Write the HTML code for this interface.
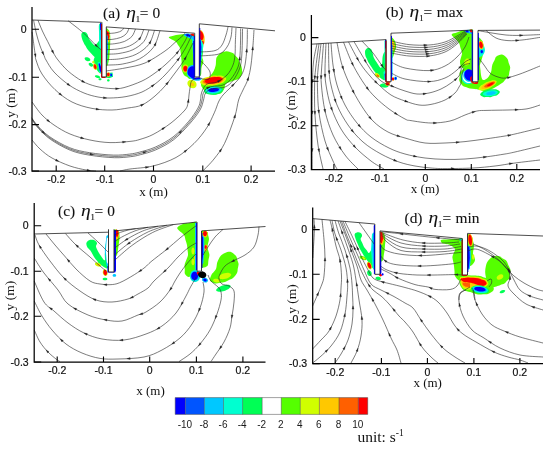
<!DOCTYPE html>
<html lang="en"><head><meta charset="utf-8"><title>Vorticity and streamlines</title>
<style>html,body{margin:0;padding:0;background:#fff}svg{display:block}</style></head><body>
<svg width="550" height="450" viewBox="0 0 550 450">
<rect width="550" height="450" fill="#fff"/>
<g id="A">
<path d="M81.7 33.3C82.2 32.4 83.7 31.9 84.7 32C85.6 32.1 86.6 32.9 87.3 34C88.1 35.1 88.1 37.1 89 38.7C89.9 40.3 91.4 42.2 92.7 43.7C93.9 45.2 95.4 46.5 96.7 47.7C97.9 48.9 99.7 49.6 100.3 50.8C101 52.1 100.4 53.8 100.5 55.2C100.6 56.7 101.4 59.2 100.7 59.7C99.9 60.1 97.5 58.9 96 58C94.5 57.1 93.1 55.5 91.7 54C90.2 52.5 88.4 50.4 87.3 49C86.3 47.6 86.1 46.9 85.5 45.8C84.9 44.8 84.3 44.1 83.7 42.7C83 41.3 82 39.1 81.7 37.5C81.3 35.9 81.2 34.2 81.7 33.3Z" fill="#00ff55" />
<path d="M93.7 47.7L97.3 43L100.5 38.7L100.5 47.5L97.7 50.7Z" fill="#00ff55"/>
<path d="M99 25C99.4 23.6 100.9 22.3 101.3 23C101.7 23.7 101.3 27.2 101.3 29.2C101.3 31.3 101.3 33.4 101.3 35.5C101.3 37.6 101.3 39.7 101.3 41.8C101.3 43.8 101.3 45.9 101.3 48C101.3 50.1 101.3 52.2 101.3 54.2C101.3 56.3 101.3 58.4 101.3 60.5C101.3 62.6 101.3 64.7 101.3 66.8C101.3 68.8 101.7 72 101.3 73C100.9 74 99.9 73.3 99 72.5C98.1 71.7 96.4 69.4 95.7 68C94.9 66.6 95 65.4 94.7 64.2C94.3 62.9 93.6 61.6 93.7 60.3C93.7 59.1 94.4 58 94.8 56.8C95.2 55.7 95.6 54.6 96 53.3C96.4 52.1 97 50.6 97.5 49.2C98 47.8 98.8 46.8 99 45C99.2 43.2 99 40.6 99 38.3C99 36.1 99 33.9 99 31.7C99 29.4 98.6 26.4 99 25Z" fill="#00ff55" />
<path d="M90.3 60.2C90.2 60.6 89.6 61 89 61.1C88.5 61.2 87.5 61.1 86.9 60.9C86.2 60.6 85.4 60.1 85.1 59.7C84.7 59.2 84.5 58.5 84.7 58.1C84.8 57.7 85.4 57.3 86 57.2C86.5 57.1 87.5 57.2 88.1 57.4C88.8 57.7 89.6 58.2 89.9 58.7C90.3 59.1 90.5 59.8 90.3 60.2Z" fill="#00ff55" />
<path d="M92.9 66.1C92.7 66.4 92.1 66.7 91.6 66.7C91.1 66.6 90.4 66.4 89.9 66C89.4 65.7 88.9 65.1 88.7 64.6C88.5 64.2 88.6 63.6 88.8 63.2C89 62.9 89.6 62.7 90.1 62.7C90.6 62.7 91.3 63 91.8 63.3C92.3 63.6 92.8 64.3 93 64.7C93.1 65.2 93.1 65.8 92.9 66.1Z" fill="#00ff55" />
<path d="M100.1 77.4C100 77.7 99.6 78 99.1 78.1C98.6 78.2 97.8 78.1 97.2 78C96.5 77.8 95.8 77.4 95.4 77.1C95.1 76.8 94.8 76.3 94.9 76C95 75.7 95.4 75.4 95.9 75.3C96.4 75.2 97.2 75.2 97.8 75.4C98.5 75.5 99.2 75.9 99.6 76.2C99.9 76.6 100.2 77.1 100.1 77.4Z" fill="#00ff55" />
<path d="M101.5 79.3C101.5 79.6 101.3 79.9 101.1 80C100.8 80.2 100.4 80.3 100 80.3C99.6 80.3 99.2 80.2 98.9 80C98.7 79.9 98.5 79.6 98.5 79.3C98.5 79.1 98.7 78.8 98.9 78.6C99.2 78.5 99.6 78.3 100 78.3C100.4 78.3 100.8 78.5 101.1 78.6C101.3 78.8 101.5 79.1 101.5 79.3Z" fill="#00ff55" />
<path d="M109.7 80.3C109.7 80.6 109.5 81 109.3 81.2C109.1 81.4 108.6 81.5 108.3 81.5C108 81.5 107.6 81.4 107.4 81.2C107.2 81 107 80.6 107 80.3C107 80.1 107.2 79.7 107.4 79.5C107.6 79.3 108 79.2 108.3 79.2C108.6 79.2 109.1 79.3 109.3 79.5C109.5 79.7 109.7 80.1 109.7 80.3Z" fill="#00ff55" />
<path d="M106 73.3L112.5 72.5L113 76.7L109.2 78.3L106 77.5Z" fill="#00ff55"/>
<path d="M99.3 25L101.3 23L101.3 50.8L99.7 48.3L99 40Z" fill="#00ffd0"/>
<path d="M99.8 24.2L101.3 23L101.3 41.7L100 38.3Z" fill="#00c8ff"/>
<path d="M100 23.3L101.3 22.5L101.3 30.8L100.2 29.2Z" fill="#0000ff"/>
<path d="M97.5 62.5L99.7 61.7L101.3 65L101.3 73.7L99.3 71.7Z" fill="#00ffd0"/>
<path d="M98.5 63.7L99.7 63.3L101.2 67.5L101.2 73L99.7 70.8Z" fill="#0000ff"/>
<path d="M97.1 66.2C97.3 66.9 97.3 68 97.1 68.6C97 69.2 96.5 69.8 96 69.9C95.6 70 94.9 69.8 94.4 69.3C93.9 68.9 93.4 67.9 93.2 67.2C93 66.4 93 65.4 93.2 64.8C93.4 64.1 93.8 63.6 94.3 63.5C94.8 63.3 95.5 63.6 95.9 64C96.4 64.5 96.9 65.4 97.1 66.2Z" fill="#d0ff00" />
<path d="M96.6 66.3C96.8 66.9 96.8 67.7 96.7 68.2C96.6 68.7 96.2 69.1 95.9 69.2C95.5 69.3 95 69.1 94.6 68.8C94.3 68.4 93.9 67.7 93.7 67C93.6 66.4 93.5 65.6 93.7 65.1C93.8 64.6 94.1 64.2 94.5 64.1C94.8 64 95.3 64.2 95.7 64.6C96.1 64.9 96.5 65.7 96.6 66.3Z" fill="#ff6000" />
<path d="M96.1 66.6C96.3 67 96.3 67.7 96.2 68C96.1 68.4 95.9 68.7 95.7 68.8C95.5 68.8 95.1 68.7 94.8 68.4C94.6 68.1 94.3 67.5 94.2 67.1C94.1 66.6 94 66 94.1 65.7C94.2 65.3 94.4 65 94.7 64.9C94.9 64.8 95.2 65 95.5 65.3C95.7 65.6 96 66.1 96.1 66.6Z" fill="#ff0000" />
<path d="M94.5 62.2C94.5 62.5 94.4 62.9 94.2 63.1C94 63.3 93.6 63.5 93.3 63.5C93.1 63.5 92.7 63.3 92.5 63.1C92.3 62.9 92.2 62.5 92.2 62.2C92.2 61.9 92.3 61.4 92.5 61.2C92.7 61 93.1 60.8 93.3 60.8C93.6 60.8 94 61 94.2 61.2C94.4 61.4 94.5 61.9 94.5 62.2Z" fill="#d0ff00" />
<path d="M106.2 28.3C106.7 27.7 108.5 29.4 109.2 30.8C109.9 32.2 110.2 34.7 110.3 36.7C110.5 38.6 110.2 40.6 110.2 42.5C110.1 44.4 110.1 46.5 110 48.3C109.9 50.1 109.7 51.7 109.6 53.3C109.4 55 109.5 56.4 109.2 58.3C108.9 60.3 108.2 63.8 107.7 65C107.2 66.2 106.4 66.7 106.2 65.8C105.9 64.9 106.2 61.7 106.2 59.6C106.2 57.5 106.2 55.4 106.2 53.3C106.2 51.2 106.2 49.2 106.2 47.1C106.2 45 106.2 42.9 106.2 40.8C106.2 38.7 106.2 36.7 106.2 34.6C106.2 32.5 105.7 29 106.2 28.3Z" fill="#55ff00" />
<path d="M106.2 29.7L109 31.7L109.8 36.7L109.2 41.7L106.2 42.5Z" fill="#ffc800"/>
<path d="M106.2 30.3L108.5 32.2L109.3 36.3L108.5 40L106.2 40Z" fill="#ff0000"/>
<path d="M106.2 34.7L107.7 35.8L108 48.3L107.3 63.3L106.2 65Z" fill="#00c8ff"/>
<path d="M106.2 35.8L107.2 36.7L107.3 48.3L106.8 61.7L106.2 62.5Z" fill="#0000ff"/>
<path d="M110.2 74.5C110.2 75 109.9 75.8 109.6 76.2C109.3 76.5 108.8 76.8 108.3 76.8C107.9 76.8 107.3 76.5 107 76.2C106.7 75.8 106.5 75 106.5 74.5C106.5 74 106.7 73.2 107 72.8C107.3 72.5 107.9 72.2 108.3 72.2C108.8 72.2 109.3 72.5 109.6 72.8C109.9 73.2 110.2 74 110.2 74.5Z" fill="#ffc800" />
<path d="M109.7 74.5C109.7 74.9 109.5 75.5 109.3 75.8C109.1 76.1 108.6 76.3 108.3 76.3C108 76.3 107.6 76.1 107.4 75.8C107.2 75.5 107 74.9 107 74.5C107 74.1 107.2 73.5 107.4 73.2C107.6 72.9 108 72.7 108.3 72.7C108.6 72.7 109.1 72.9 109.3 73.2C109.5 73.5 109.7 74.1 109.7 74.5Z" fill="#ff0000" />
<path d="M112.5 75C112.5 75.4 112.3 76 112.1 76.3C111.9 76.6 111.5 76.8 111.2 76.8C110.9 76.8 110.4 76.6 110.2 76.3C110 76 109.8 75.4 109.8 75C109.8 74.6 110 74 110.2 73.7C110.4 73.4 110.9 73.2 111.2 73.2C111.5 73.2 111.9 73.4 112.1 73.7C112.3 74 112.5 74.6 112.5 75Z" fill="#00c8ff" />
<path d="M112 75C112 75.3 111.9 75.7 111.8 75.9C111.6 76.2 111.4 76.3 111.2 76.3C111 76.3 110.7 76.2 110.6 75.9C110.4 75.7 110.3 75.3 110.3 75C110.3 74.7 110.4 74.3 110.6 74.1C110.7 73.8 111 73.7 111.2 73.7C111.4 73.7 111.6 73.8 111.8 74.1C111.9 74.3 112 74.7 112 75Z" fill="#0000ff" />
<path d="M169 37C169.4 36.6 171.3 36.3 172.5 36C173.7 35.7 174.8 35.2 176 35C177.2 34.8 178.7 34.7 180 34.5C181.3 34.3 182.5 34 184 34C185.5 34 187.5 34.2 189.2 34.3C190.9 34.4 193.5 33.4 194.4 34.6C195.3 35.8 194.4 39.1 194.4 41.3C194.4 43.6 194.4 45.8 194.4 48.1C194.4 50.3 194.4 52.6 194.4 54.8C194.4 57 194.4 59.3 194.4 61.5C194.4 63.8 194.4 66 194.4 68.3C194.4 70.5 195.1 73.2 194.4 75C193.7 76.8 191.2 78.7 190 79C188.8 79.3 188 77.7 187 77C186 76.3 184.9 76.3 184 75C183.1 73.7 182 71.2 181.6 69C181.2 66.8 181.6 63.8 181.6 62C181.6 60.2 181.4 59.7 181.3 58.5C181.2 57.3 181.1 56.2 181 55C180.9 53.8 180.7 52.7 180.5 51.5C180.3 50.3 180.4 49.1 180 48C179.6 46.9 178.7 46 178 45C177.3 44 177.3 43.1 176 42C174.7 40.9 171.2 39.4 170 38.6C168.8 37.8 168.6 37.4 169 37Z" fill="#55ff00" />
<path d="M217 56.7C217.8 55.5 219.4 53.8 221 52.9C222.6 52 224.6 51.2 226.6 51.2C228.6 51.2 231.3 52.3 232.7 53.1C234.2 53.8 234.5 54.8 235.4 55.7C236.3 56.6 237.3 57.3 238.1 58.4C238.8 59.5 239.2 61.2 239.8 62.5C240.4 63.9 241.2 64.8 241.5 66.7C241.9 68.5 242.5 71.6 242.1 73.6C241.6 75.6 240.1 77.6 239 78.7C237.9 79.7 236.6 79.6 235.5 80C234.3 80.4 233.6 80.7 231.9 81.3C230.3 82 226.9 82.8 225.7 84C224.4 85.2 225.1 87.1 224.3 88.7C223.6 90.2 222.2 92.4 221 93.3C219.8 94.2 218.6 93.8 217.3 94C216.1 94.2 214.9 94.7 213.7 94.7C212.4 94.6 211.2 94 210 93.7C208.8 93.3 207.5 93.5 206.3 92.7C205.2 91.8 203.9 90 203 88.7C202.1 87.3 201 85.8 201 84.7C201 83.5 202.1 82.6 203 81.6C203.9 80.6 205.1 79.9 206.3 78.9C207.6 78 209.1 77.1 210.3 75.7C211.6 74.4 212.8 72.7 213.7 70.9C214.6 69.2 215.3 67.2 215.7 65.3C216.1 63.5 215.8 61.4 216.1 60C216.3 58.6 216.2 57.8 217 56.7Z" fill="#55ff00" />
<path d="M223.2 89.6C223.2 90.6 222.2 92 220.6 92.9C219.1 93.8 216.2 94.6 214 94.8C211.7 95 208.8 94.7 207.1 94.1C205.5 93.5 204.1 92.3 204 91.2C203.9 90.2 205 88.8 206.6 87.9C208.1 87 211 86.2 213.2 86C215.5 85.8 218.4 86.1 220.1 86.7C221.7 87.3 223.1 88.5 223.2 89.6Z" fill="#00ff55" />
<path d="M221.6 89.5C221.6 90.3 220.7 91.4 219.4 92.1C218.2 92.8 215.8 93.4 213.9 93.6C212 93.8 209.5 93.5 208.2 93.1C206.8 92.6 205.7 91.7 205.6 90.9C205.6 90.1 206.5 89 207.8 88.3C209 87.6 211.4 87 213.3 86.8C215.2 86.6 217.7 86.9 219 87.3C220.4 87.8 221.5 88.7 221.6 89.5Z" fill="#00ffd0" />
<path d="M220.4 89.6C220.4 90.3 219.6 91.2 218.6 91.8C217.5 92.3 215.4 92.8 213.8 93C212.2 93.1 210.1 93 209 92.6C207.8 92.2 206.9 91.4 206.8 90.8C206.8 90.1 207.6 89.2 208.6 88.7C209.7 88.1 211.8 87.5 213.4 87.4C215 87.3 217.1 87.4 218.2 87.8C219.4 88.2 220.3 89 220.4 89.6Z" fill="#00c8ff" />
<path d="M219 89.5C219 90 218.4 90.7 217.5 91.1C216.7 91.5 215 91.9 213.8 92C212.5 92.1 210.8 92 209.9 91.7C209 91.5 208.3 90.9 208.2 90.5C208.2 90 208.8 89.3 209.7 88.9C210.5 88.5 212.2 88.1 213.4 88C214.7 87.9 216.4 88 217.3 88.3C218.2 88.5 218.9 89.1 219 89.5Z" fill="#0000ff" />
<path d="M226.3 78.8C226.4 79.9 224.2 81.9 222.9 82.8C221.6 83.7 219.9 83.7 218.4 84.2C216.9 84.6 215.4 85.3 213.9 85.5C212.4 85.8 210.8 85.5 209.2 85.5C207.6 85.4 206 85.9 204.4 85.4C202.9 84.9 200.3 83.6 200.1 82.4C200 81.3 202.2 79.3 203.5 78.4C204.8 77.5 206.5 77.5 208 77C209.5 76.6 211 75.9 212.5 75.7C214 75.4 215.7 75.7 217.2 75.7C218.8 75.8 220.4 75.3 221.9 75.8C223.5 76.3 226.1 77.6 226.3 78.8Z" fill="#d0ff00" />
<path d="M224.7 79C224.8 80 222.9 81.6 221.7 82.4C220.6 83.2 219.1 83.2 217.8 83.6C216.4 84 215.1 84.6 213.8 84.8C212.4 85 211 84.7 209.6 84.7C208.3 84.7 206.8 85.1 205.5 84.7C204.2 84.3 201.8 83.2 201.7 82.2C201.6 81.2 203.5 79.6 204.7 78.8C205.8 78 207.3 78 208.6 77.6C210 77.2 211.3 76.6 212.6 76.4C214 76.2 215.4 76.5 216.8 76.5C218.1 76.5 219.6 76.1 220.9 76.5C222.2 76.9 224.6 78 224.7 79Z" fill="#ffc800" />
<path d="M223.3 79C223.4 79.8 221.7 81.3 220.7 81.9C219.7 82.6 218.4 82.6 217.2 82.9C216 83.3 214.9 83.8 213.7 84C212.5 84.1 211.3 83.9 210.1 83.9C208.8 83.9 207.6 84.3 206.4 83.9C205.3 83.6 203.2 82.7 203.1 81.8C203 81 204.7 79.5 205.7 78.9C206.7 78.2 208 78.2 209.2 77.9C210.4 77.5 211.5 77 212.7 76.8C213.9 76.7 215.1 76.9 216.3 76.9C217.6 76.9 218.8 76.5 220 76.9C221.1 77.2 223.2 78.1 223.3 79Z" fill="#ff6000" />
<path d="M222.3 79C222.4 79.7 221.4 80.7 220.1 81.4C218.7 82 216.1 82.8 214 83.1C211.9 83.4 209.2 83.4 207.7 83.1C206.2 82.8 205 82.1 204.9 81.4C204.8 80.7 205.8 79.7 207.2 79C208.5 78.4 211.1 77.6 213.2 77.3C215.3 77 218 77 219.5 77.3C221 77.6 222.2 78.3 222.3 79Z" fill="#ff0000" />
<path d="M196.2 86.4C195.7 87.2 194.6 88 193.5 88.2C192.5 88.3 191 88 190 87.5C189 86.9 188 85.7 187.7 84.8C187.3 83.8 187.4 82.4 187.8 81.6C188.3 80.8 189.4 80 190.5 79.8C191.5 79.7 193 80 194 80.5C195 81.1 196 82.3 196.3 83.2C196.7 84.2 196.6 85.6 196.2 86.4Z" fill="#d0ff00" />
<path d="M194.1 85.4C193.9 85.7 193.5 86 193.1 86.1C192.6 86.2 192 86 191.6 85.8C191.2 85.6 190.8 85.1 190.6 84.7C190.5 84.3 190.5 83.7 190.7 83.4C190.9 83.1 191.3 82.8 191.7 82.7C192.2 82.6 192.8 82.8 193.2 83C193.6 83.2 194 83.7 194.2 84.1C194.3 84.5 194.3 85.1 194.1 85.4Z" fill="#ffc800" />
<path d="M188.6 68.6C188.6 69.5 188.2 70.8 187.7 71.4C187.1 72.1 186.2 72.6 185.4 72.6C184.6 72.6 183.7 72.1 183.1 71.4C182.6 70.8 182.2 69.5 182.2 68.6C182.2 67.7 182.6 66.4 183.1 65.8C183.7 65.1 184.6 64.6 185.4 64.6C186.2 64.6 187.1 65.1 187.7 65.8C188.2 66.4 188.6 67.7 188.6 68.6Z" fill="#d0ff00" />
<path d="M187.8 68.6C187.8 69.4 187.5 70.3 187.1 70.9C186.7 71.4 186 71.8 185.4 71.8C184.8 71.8 184.1 71.4 183.7 70.9C183.3 70.3 183 69.4 183 68.6C183 67.8 183.3 66.9 183.7 66.3C184.1 65.8 184.8 65.4 185.4 65.4C186 65.4 186.7 65.8 187.1 66.3C187.5 66.9 187.8 67.8 187.8 68.6Z" fill="#ff6000" />
<path d="M187.2 68.6C187.2 69.2 187 70 186.7 70.4C186.4 70.9 185.8 71.2 185.4 71.2C185 71.2 184.4 70.9 184.1 70.4C183.8 70 183.6 69.2 183.6 68.6C183.6 68 183.8 67.2 184.1 66.8C184.4 66.3 185 66 185.4 66C185.8 66 186.4 66.3 186.7 66.8C187 67.2 187.2 68 187.2 68.6Z" fill="#ff0000" />
<path d="M188 67.4C188.8 65.9 190.9 65.2 192 65C193.1 64.8 194 64.8 194.4 66C194.8 67.2 194.4 70.2 194.4 72.3C194.4 74.4 193.3 77.5 194.4 78.6C195.5 79.6 199.7 79.2 201 78.6C202.3 78 202 74.8 202 75C202 75.2 202.2 79.1 201 80C199.8 80.9 196.8 80.9 195 80.6C193.2 80.3 191.3 79.1 190 78C188.7 76.9 187.3 75.8 187 74C186.7 72.2 187.2 68.9 188 67.4Z" fill="#00c8ff" />
<path d="M188.6 68.6C189.3 67.4 191 66.4 192 66.2C193 66 194 66.4 194.4 67.4C194.8 68.4 194.4 70.7 194.4 72.4C194.4 74.1 193.5 76.6 194.4 77.4C195.3 78.2 199.1 77.1 200 77.4C200.9 77.7 200.8 78.7 200 79C199.2 79.3 196.6 79.7 195 79.4C193.4 79.1 191.6 78 190.4 77C189.2 76 187.9 74.8 187.6 73.4C187.3 72 187.9 69.8 188.6 68.6Z" fill="#0000ff" />
<path d="M183.6 34.6C184 34.1 186.6 33.3 188 33.4C189.4 33.5 190.9 34.3 192 35C193.1 35.7 194 36.4 194.4 37.4C194.8 38.4 195.1 40.8 194.4 41C193.7 41.2 191.5 39.3 190 38.6C188.5 37.9 186.7 37.3 185.6 36.6C184.5 35.9 183.2 35.1 183.6 34.6Z" fill="#00c8ff" />
<path d="M185 34.6L188 34L191 35.4L190 37L186.4 35.8Z" fill="#0000ff"/>
<path d="M190 34L193.6 33.6L194.4 36.6L192 35.8Z" fill="#ff0000"/>
<path d="M192 39L194.4 40L194.4 61L193 55Z" fill="#00ffd0"/>
<path d="M193.2 41L194.4 40.6L194.4 73L193.4 67Z" fill="#0000ff"/>
<path d="M199 32C199.5 31.6 201.3 34.4 202.1 36C202.8 37.6 203.5 39.3 203.7 41.3C203.8 43.3 203.1 46 203 48C202.9 50 203.1 51.8 203 53.3C202.9 54.9 202.3 55.9 202.3 57.3C202.4 58.8 203.5 60.4 203.4 62C203.3 63.6 202 65.2 201.7 66.7C201.3 68.1 201.4 69.3 201.3 70.7C201.2 72 201.4 73.7 201 74.7C200.6 75.7 199.3 77.4 199 76.7C198.7 75.9 199 72.4 199 70.3C199 68.2 199 66 199 63.9C199 61.8 199 59.7 199 57.5C199 55.4 199 53.3 199 51.1C199 49 199 46.9 199 44.8C199 42.6 199 40.5 199 38.4C199 36.3 198.5 32.4 199 32Z" fill="#55ff00" />
<path d="M199 30C199.6 29.4 201.5 30.3 202.4 31.4C203.3 32.5 204.1 34.7 204.4 36.6C204.7 38.5 204.8 41.6 204.4 43C204 44.4 202.9 44.7 202 45C201.1 45.3 199.5 45.8 199 45C198.5 44.2 199 41.7 199 40C199 38.3 199 36.7 199 35C199 33.3 198.4 30.6 199 30Z" fill="#ffc800" />
<path d="M199.4 31C199.8 30.2 201.3 31.2 202 32C202.7 32.8 203.5 34.8 203.6 36C203.7 37.2 203.3 38.7 202.8 39.4C202.3 40.1 201.2 40.4 200.6 40C200 39.6 199.6 38.5 199.4 37C199.2 35.5 199 31.8 199.4 31Z" fill="#ff0000" />
<path d="M203.8 42.6C203.8 43 203.6 43.6 203.4 43.9C203.2 44.2 202.9 44.4 202.6 44.4C202.3 44.4 201.9 44.2 201.8 43.9C201.6 43.6 201.4 43 201.4 42.6C201.4 42.2 201.6 41.6 201.8 41.3C201.9 41 202.3 40.8 202.6 40.8C202.9 40.8 203.2 41 203.4 41.3C203.6 41.6 203.8 42.2 203.8 42.6Z" fill="#ff0000" />
<path d="M199 39C199.4 38.3 200.9 39.6 201.6 40.6C202.3 41.6 203 43.4 203.2 45C203.4 46.6 203 48.2 202.8 50C202.6 51.8 202.3 53.7 202 55.5C201.7 57.3 201.7 59.8 201.2 61C200.7 62.2 199.4 63.7 199 63C198.6 62.3 199 59 199 57C199 55 199 53 199 51C199 49 199 47 199 45C199 43 198.6 39.7 199 39Z" fill="#00ffd0" />
<path d="M199 35C199.3 34.8 200.2 38.6 200.6 40.6C201 42.6 201.3 45.2 201.4 47C201.5 48.8 201.3 50.1 201.2 51.7C201.1 53.2 201.1 54.8 201 56.3C200.9 57.9 200.9 59.1 200.8 61C200.7 62.9 200.5 65.3 200.4 67.5C200.3 69.7 200.2 72.8 200 74C199.8 75.2 199.2 75.9 199 75C198.8 74.1 199 70.6 199 68.3C199 66.1 199 63.9 199 61.7C199 59.4 199 57.2 199 55C199 52.8 199 50.6 199 48.3C199 46.1 199 43.9 199 41.7C199 39.4 198.7 35.2 199 35Z" fill="#0000ff" />
<path d="M68.2 20.8C70.7 22.8 78.7 28.7 83.3 32.8C87.9 36.9 92.8 42.3 95.8 45.2C98.8 48.1 100.5 49.2 101.5 50M38 20.3C38.7 22.1 40.8 27.4 42.4 31C44 34.6 46 38.2 47.8 41.7C49.6 45.2 51.4 49.2 53.1 52.3C54.8 55.3 55.5 56.9 58 60C60.5 63.1 64 67.5 68 71C72 74.5 77.3 78.4 82 81C86.7 83.6 91 85.1 96 86.4C101 87.7 107.3 88.4 112 88.6C116.7 88.8 119 88.9 124 87.6C129 86.3 136.8 83.4 142 81C147.2 78.6 151.2 75.7 155 73C158.8 70.3 161.3 68.3 165 65C168.7 61.7 173.7 57 177 53C180.3 49 183.2 44.1 185 41C186.8 37.9 187.5 35.6 188 34.5M33.6 20.3C34 22.4 35.2 28.6 36.2 32.8C37.2 36.9 38.5 41.4 39.8 45.2C41.1 49.1 43.2 53.4 44.2 55.9C45.2 58.4 44.4 57.3 46 60C47.6 62.7 50.2 67.8 54 72C57.8 76.2 64 81.5 69 85C74 88.5 79.2 91 84 93C88.8 95 93.7 96.2 98 97C102.3 97.8 105.3 98.1 110 98C114.7 97.9 120.7 97.6 126 96.6C131.3 95.6 137.2 94.1 142 92C146.8 89.9 151.2 86.8 155 84C158.8 81.2 161.3 78.8 165 75C168.7 71.2 173.7 65.3 177 61C180.3 56.7 182.8 52.7 185 49C187.2 45.3 188.8 41.3 190 39C191.2 36.7 191.7 35.7 192 35M32.1 31.9C32.4 34.1 33.4 41.4 33.9 45.2C34.4 49.1 34.9 52.5 35.3 55C35.6 57.5 34.9 56.8 36 60C37.1 63.2 38.8 69.1 42 74C45.2 78.9 50 84.9 55 89.6C60 94.3 65.8 98.9 72 102C78.2 105.1 85.3 107.1 92 108.4C98.7 109.7 106 110.1 112 110C118 109.9 123 108.8 128 108C133 107.2 137.5 107 142 105C146.5 103 151.2 99.2 155 96C158.8 92.8 161.7 89.8 165 86C168.3 82.2 172 77 175 73C178 69 181 65 183 62C185 59 185.3 58.2 187 55C188.7 51.8 192 45 193 43M32 102C33.7 104.2 38.3 111.2 42 115C45.7 118.8 49.3 121.8 54 125C58.7 128.2 64 131.5 70 134C76 136.5 83.3 138.6 90 140C96.7 141.4 103.3 142.4 110 142.6C116.7 142.8 125 141.9 130 141.4C135 140.9 136.2 140.6 140 139.4C143.8 138.2 147.8 137.2 153 134.5C158.2 131.8 165.7 127.1 171 123C176.3 118.9 182.2 113.3 185 110C187.8 106.7 187.3 105.5 188 103C188.7 100.5 188.7 97.5 189 95C189.3 92.5 189.6 90.3 190 88C190.4 85.7 190.5 82.6 191.5 81C192.5 79.4 195.2 78.8 196 78.3M31.6 117.7C32.6 119 34.6 122.5 37.6 125.7C40.6 128.9 44.3 133 49.6 136.7C54.9 140.4 62.9 145 69.6 147.7C76.3 150.4 82.3 151.5 89.6 152.7C96.9 153.9 106.9 154.9 113.6 155.1C120.3 155.3 125.3 154.6 129.6 154.1C133.9 153.6 135.4 153.2 139.6 152.1C143.9 150.9 149.5 149.7 155.1 147.2C160.7 144.7 167.5 141.2 173 137C178.6 132.8 184.2 126.5 188.4 121.7C192.6 116.9 196 111.6 198 108C200 104.4 200 102.2 200.5 100C201 97.8 200.6 96.8 201 95C201.4 93.2 202 90.8 203 89C204 87.2 204.7 85.2 207 84C209.3 82.8 213.7 83.5 217 82C220.3 80.5 224.3 77.8 227 75C229.7 72.2 231.7 68.3 233 65C234.3 61.7 234.6 59 235 55C235.4 51 235.2 45.5 235.4 41C235.6 36.5 235.9 30.2 236 28M32 119C33 120.3 35 123.8 38 127C41 130.2 44.7 134.3 50 138C55.3 141.7 63.3 146.3 70 149C76.7 151.7 82.7 152.8 90 154C97.3 155.2 107.3 156.2 114 156.4C120.7 156.6 125.7 155.9 130 155.4C134.3 154.9 135.8 154.6 140 153.4C144.2 152.2 149.9 151 155.5 148.5C161.1 146 167.8 142.6 173.4 138.3C179 134.1 184.5 127.9 188.8 123C193.1 118.1 196.8 112.8 199 109C201.2 105.2 201.3 102.5 202 100C202.7 97.5 202.3 95.8 203 94C203.7 92.2 204.5 90.2 206 89C207.5 87.8 209.2 87.2 212 86.5C214.8 85.8 219.8 86.2 223 85C226.2 83.8 228.5 82 231 79C233.5 76 236.5 71 238 67C239.5 63 239.6 60 240 55C240.4 50 240.5 41.4 240.6 37C240.7 32.6 240.6 30 240.6 28.6M32.4 120.3C33.4 121.6 35.4 125.1 38.4 128.3C41.4 131.5 45.1 135.6 50.4 139.3C55.7 143 63.7 147.6 70.4 150.3C77.1 153 83.1 154.1 90.4 155.3C97.7 156.5 107.7 157.5 114.4 157.7C121.1 157.9 126.1 157.2 130.4 156.7C134.7 156.2 136.1 155.9 140.4 154.7C144.6 153.6 150.3 152.3 155.9 149.8C161.5 147.3 168.2 143.9 173.8 139.6C179.3 135.4 184.8 129.2 189.2 124.3C193.6 119.4 197.6 114 200 110C202.4 106 202.7 102.6 203.5 100C204.3 97.4 204.1 96.1 204.8 94.5C205.6 92.9 206.5 91.5 208 90.5C209.5 89.5 211.2 89.1 214 88.5C216.8 87.9 221.8 88.3 225 87C228.2 85.7 230.5 83.7 233 80.5C235.5 77.3 238.3 72.2 239.8 68C241.3 63.8 241.4 60.2 241.8 55C242.2 49.8 242.3 41.4 242.4 37C242.5 32.6 242.5 30.2 242.5 28.8M32 140C33.3 141.5 36.7 146 40 149C43.3 152 47 155.2 52 158C57 160.8 64.3 164 70 166C75.7 168 81.7 169.2 86 170C90.3 170.8 94.3 170.8 96 171M120 171C121.7 170.7 124.5 169.8 130 169C135.5 168.2 145.3 167.9 153 166C160.7 164.1 169.2 161.2 176 157.5C182.8 153.8 188.9 148.4 194 143.5C199.1 138.6 203.2 133.1 206.6 128C210 122.9 212.3 117.1 214.3 112.8C216.3 108.5 217.1 105 218.5 102C219.9 99 221.2 97.2 223 95C224.8 92.8 226.8 91.2 229 89C231.2 86.8 233.9 84.3 236 82C238.1 79.7 240 77.8 241.5 75C243 72.2 244.1 69.7 245 65C245.9 60.3 246.6 53 247 47C247.4 41 247.3 32.2 247.4 29.3M202.8 171C204.7 169 210.4 163.6 214 159C217.6 154.4 221 150.6 224.5 143.5C228 136.4 232.5 123.8 234.8 116.6C237.2 109.3 237.2 104.4 238.6 100C240 95.6 241.4 93.5 243 90C244.6 86.5 246.7 83.2 248 79C249.3 74.8 250.2 70.7 251 65C251.8 59.3 252.5 50.8 253 45C253.5 39.2 253.8 32.5 254 30M228 27C227.7 28.3 227 32 226 35C225 38 223.8 42.4 222 45C220.2 47.6 218.8 49.4 215 50.6C211.2 51.8 201.9 51.8 199.3 52M232 27.4C231.8 29 231.8 33.7 231 37C230.2 40.3 229 44.2 227 47C225 49.8 223.6 52.5 219 54C214.4 55.5 202.6 55.7 199.3 56M199.3 60C200.2 60.8 203.2 63 205 65C206.8 67 209.3 69.7 210 72C210.7 74.3 210.2 77.8 209 79C207.8 80.2 204.7 79.2 203 79C201.3 78.8 199.7 77.8 199 77.5M106.3 33.5C107.1 33.5 109.5 33.5 111.3 33.3C113.1 33.2 115.3 33 117 32.5C118.7 32.1 120.5 31.5 121.6 30.7C122.7 30 123.3 28.6 123.7 28.2M106.3 39.6C107.4 39.5 110.6 39.6 112.9 39.3C115.2 38.9 118 38.5 120.3 37.6C122.5 36.7 124.8 35.4 126.2 33.8C127.7 32.3 128.5 29.4 129 28.5M106.3 44.2C107.7 44.1 111.9 44.2 114.8 43.7C117.8 43.3 121.4 42.7 124.3 41.5C127.1 40.2 130.1 38.4 132 36.3C133.8 34.2 134.9 30.2 135.5 29M106.3 49.6C108.1 49.5 113.5 49.6 117.3 49C121.2 48.4 125.7 47.6 129.4 46C133 44.4 136.8 41.9 139.2 39.2C141.6 36.5 142.9 31.2 143.7 29.6M106.3 54.2C108.4 54.1 114.5 54.2 118.9 53.5C123.3 52.7 128.5 51.8 132.7 49.8C136.8 47.9 141.1 44.9 143.8 41.6C146.6 38.3 148.1 31.9 149 30M106.3 59.6C108.7 59.5 115.6 59.6 120.6 58.7C125.6 57.8 131.4 56.7 136.1 54.3C140.8 51.9 145.7 48.4 148.8 44.4C151.8 40.4 153.6 32.7 154.6 30.4M106.3 65.1C109 64.9 116.7 65.1 122.2 64.1C127.7 63 134.3 61.7 139.5 58.9C144.7 56.1 150.1 51.9 153.5 47.2C156.9 42.5 158.9 33.5 160 30.7M106 71C109.2 70.5 118.5 69.3 125 68C131.5 66.7 138.3 65.8 145 63C151.7 60.2 160 54.4 165 51C170 47.6 172 45.1 175 42.5C178 39.9 181.3 37.1 183 35.5C184.7 33.9 184.7 33.4 185 33" fill="none" stroke="#2a2a2a" stroke-width="0.62" stroke-linejoin="round"/>
<path d="M97.6 46.9L94.5 45.3L95.9 43.9ZM53.7 53.4L51.2 51L53 50ZM84.9 82.5L81.5 81.9L82.4 80.1ZM119 88.6L115.7 89.7L115.6 87.8ZM161.2 68.3L159.2 71.2L158 69.6ZM178.7 50.9L177.4 54.1L175.8 52.9ZM43.8 54.9L41.5 52.2L43.3 51.4ZM70.1 85.8L66.9 84.7L68 83.1ZM106.8 98L103.4 98.8L103.5 96.8ZM154.4 84.4L152.3 87.2L151.2 85.6ZM179.5 57.7L178.3 60.9L176.7 59.7ZM35.6 57.1L34.2 54L36.1 53.8ZM61.9 95.5L58.7 94.2L60 92.7ZM99.4 109.5L96 110.1L96.2 108.1ZM143.9 104.1L141.4 106.4L140.5 104.6ZM168.5 81.8L167.2 85L165.6 83.7ZM186.3 56.4L185.6 59.8L183.8 58.9ZM49.9 122.1L46.7 120.8L47.9 119.3ZM84 138.6L80.5 138.7L81 136.8ZM125.9 141.8L122.7 143.1L122.5 141.2ZM165.1 127.2L162.8 129.9L161.8 128.2ZM188.6 99.1L189.2 102.5L187.2 102.3ZM220.7 80L218.3 82.5L217.4 80.8ZM44.7 133.8L41.6 132.2L43 130.8ZM93.3 154.5L89.9 155L90.2 153ZM146.4 151.7L143.5 153.5L143 151.6ZM181.9 130.6L180.2 133.6L178.8 132.2ZM210 86.9L207.3 89.1L206.5 87.3ZM239.9 56.7L240.6 60.1L238.6 60ZM58.8 161.4L55.4 160.9L56.2 159.1ZM90.3 170.6L86.9 171.2L87.2 169.2ZM148.8 166.9L145.7 168.4L145.4 166.4ZM187.1 149.8L185.1 152.6L183.9 151.1ZM209.9 122.3L209.2 125.7L207.5 124.7ZM234.5 83.6L232.8 86.7L231.4 85.2ZM246.9 48.8L247.6 52.2L245.6 52ZM221.7 148.7L220.7 152L219 150.9ZM235.4 114.6L235.4 118L233.5 117.4ZM248.6 77.1L248.6 80.6L246.7 80ZM252.9 46.7L253.6 50.1L251.6 49.9ZM140.9 36.7L140 40L138.3 38.9ZM151 40.5L150.4 43.9L148.7 43ZM156.1 42.5L155.6 45.9L153.8 45.1ZM151.1 59.9L148.7 62.4L147.8 60.6Z" fill="#222" stroke="#222" stroke-width="0.3"/>
<path d="M32 20L101.5 22.3" fill="none" stroke="#222" stroke-width="0.8"/>
<path d="M106 26.9L194.7 33.2" fill="none" stroke="#222" stroke-width="0.8"/>
<path d="M199.3 23.8L275 30.8" fill="none" stroke="#222" stroke-width="0.8"/>
<path d="M101.9 22.3V77H106.3V26.9" fill="#fff" stroke="#222" stroke-width="0.9"/>
<path d="M194.7 33.2V77H199.3V23.8" fill="#fff" stroke="#222" stroke-width="0.9"/>
<path d="M101.6 24V77.4H105.5" fill="none" stroke="#b00000" stroke-width="1.0"/>
<path d="M194.3 36V77.6" fill="none" stroke="#0000d0" stroke-width="1.0"/>
<path d="M199.8 28V76" fill="none" stroke="#0000d0" stroke-width="0.9"/>
<path d="M32 7V171H275" fill="none" stroke="#000" stroke-width="1.25"/>
<path d="M56.2 171v-5.5M104.7 171v-5.5M153.5 171v-5.5M202.8 171v-5.5M251.1 171v-5.5M32 29.3h7M32 77.2h7M32 124.6h7M32 171h7" fill="none" stroke="#000" stroke-width="1.1"/>
<g font-family='"Liberation Sans", sans-serif' font-size="10.5" fill="#111" stroke="#111" stroke-width="0.2">
<text x="56.2" y="183" text-anchor="middle">-0.2</text>
<text x="104.7" y="183" text-anchor="middle">-0.1</text>
<text x="153.5" y="183" text-anchor="middle">0</text>
<text x="202.8" y="183" text-anchor="middle">0.1</text>
<text x="251.1" y="183" text-anchor="middle">0.2</text>
<text x="26.5" y="32.9" text-anchor="end">0</text>
<text x="26.5" y="80.8" text-anchor="end">-0.1</text>
<text x="26.5" y="128.2" text-anchor="end">-0.2</text>
<text x="26.5" y="174.6" text-anchor="end">-0.3</text>
</g>
<g font-family='"Liberation Serif", serif' font-size="15.4" fill="#111" stroke="#111" stroke-width="0.1"><text x="103" y="18.400000000000002">(a)</text><text transform="translate(126.2 18.400000000000002) scale(1.22 1)" font-style="italic" font-size="16.0" stroke-width="0.05">η</text><text x="135.7" y="22.3" font-size="8.6" stroke="#111" stroke-width="0.15">1</text><text x="139.8" y="18.400000000000002">=</text><text x="152.6" y="18.400000000000002">0</text></g>
<text x="139.2" y="195.8" font-family='"Liberation Serif", serif' font-size="13.0" fill="#111">x (m)</text>
<text transform="translate(15 103) rotate(-90)" text-anchor="middle" font-family='"Liberation Serif", serif' font-size="13.5" fill="#111">y (m)</text>
</g>
<g id="B">
<path d="M365.2 50.6C365.6 49.4 366.8 48.3 367.8 48C368.8 47.7 370.2 48.2 371 49C371.8 49.8 372.1 51.5 372.6 53C373.1 54.5 373.2 56.3 374 58C374.8 59.7 376.2 61.7 377.4 63.4C378.6 65.1 380.2 68.1 381 68C381.8 67.9 381.9 64.8 382.2 63C382.5 61.2 382.3 58.7 382.6 57C382.9 55.3 383.3 53.8 383.8 53C384.3 52.2 385.5 51.2 385.8 52C386.1 52.8 385.8 55.7 385.8 57.6C385.9 59.5 385.9 61.3 385.9 63.2C385.9 65.1 385.9 66.9 385.9 68.8C385.9 70.7 385.9 72.5 386 74.4C386 76.3 386.6 79.2 386 80C385.4 80.8 383.9 80.1 382.6 79.4C381.3 78.7 379.2 77.1 378 76C376.8 74.9 376.3 73.8 375.5 72.7C374.7 71.6 373.8 70.6 373 69.4C372.2 68.2 371.4 66.9 370.6 65.7C369.8 64.5 368.8 63.2 368.2 62C367.6 60.8 367.3 59.8 366.8 58.7C366.3 57.6 365.7 56.8 365.4 55.4C365.1 54 364.8 51.8 365.2 50.6Z" fill="#00ff55" />
<path d="M388.6 86C388.5 86.5 387.9 87 387.2 87.3C386.4 87.5 385.1 87.7 384 87.6C383 87.5 381.7 87.1 381 86.7C380.3 86.3 379.8 85.7 379.8 85.2C379.9 84.8 380.5 84.2 381.2 83.9C382 83.7 383.3 83.5 384.4 83.6C385.4 83.7 386.7 84.1 387.4 84.5C388.1 84.9 388.6 85.5 388.6 86Z" fill="#00ff55" />
<path d="M384.4 41L386 39.8L386 66L384.6 63Z" fill="#00ffd0"/>
<path d="M385 40.2L386 39.6L386 49L385 47.4Z" fill="#0000ff"/>
<path d="M383.4 72L386 70L386 82L384.2 79Z" fill="#00ffd0"/>
<path d="M384.6 74L386 73L386 81.4L385 79.4Z" fill="#0000ff"/>
<path d="M379.7 77.3C379.4 77.7 378.8 77.8 378.2 77.7C377.6 77.6 376.8 77.2 376.2 76.8C375.7 76.3 375.1 75.6 375 75C374.8 74.5 374.8 73.8 375.1 73.5C375.4 73.1 376 73 376.6 73.1C377.2 73.2 378 73.6 378.6 74C379.1 74.5 379.6 75.2 379.8 75.8C380 76.3 380 77 379.7 77.3Z" fill="#d0ff00" />
<path d="M379 76.8C378.9 77 378.5 77.1 378.2 77.1C377.9 77 377.4 76.8 377.2 76.6C376.9 76.3 376.6 75.9 376.5 75.6C376.4 75.3 376.4 74.9 376.6 74.8C376.7 74.6 377.1 74.5 377.4 74.5C377.7 74.6 378.2 74.8 378.4 75C378.7 75.3 379 75.7 379.1 76C379.2 76.3 379.2 76.7 379 76.8Z" fill="#ff6000" />
<path d="M390 84C390 84.4 389.7 85 389.3 85.3C388.9 85.6 388.2 85.8 387.6 85.8C387 85.8 386.3 85.6 385.9 85.3C385.5 85 385.2 84.4 385.2 84C385.2 83.6 385.5 83 385.9 82.7C386.3 82.4 387 82.2 387.6 82.2C388.2 82.2 388.9 82.4 389.3 82.7C389.7 83 390 83.6 390 84Z" fill="#ffc800" />
<path d="M389.4 84C389.4 84.3 389.2 84.8 388.9 85C388.6 85.2 388 85.4 387.6 85.4C387.2 85.4 386.6 85.2 386.3 85C386 84.8 385.8 84.3 385.8 84C385.8 83.7 386 83.2 386.3 83C386.6 82.8 387.2 82.6 387.6 82.6C388 82.6 388.6 82.8 388.9 83C389.2 83.2 389.4 83.7 389.4 84Z" fill="#ff0000" />
<path d="M391.2 37.4C391.8 36.8 393.8 39.1 394.6 40.6C395.4 42.1 396.2 44.7 396.2 46.6C396.2 48.5 395.1 50.3 394.6 52C394.1 53.7 393.6 56 393 57C392.4 58 391.5 59 391.2 58C390.9 57 391.2 53.4 391.2 51.1C391.2 48.8 391.2 46.6 391.2 44.3C391.2 42 390.6 38 391.2 37.4Z" fill="#55ff00" />
<path d="M391.2 39.4L394 42L395 46.6L393.6 50.6L391.2 51.4Z" fill="#ffc800"/>
<path d="M391.2 44L392.6 45L392.6 76L391.2 77.4Z" fill="#00c8ff"/>
<path d="M394.6 79C394.6 79.4 394.4 80 394.1 80.3C393.9 80.6 393.4 80.8 393 80.8C392.6 80.8 392.1 80.6 391.9 80.3C391.6 80 391.4 79.4 391.4 79C391.4 78.6 391.6 78 391.9 77.7C392.1 77.4 392.6 77.2 393 77.2C393.4 77.2 393.9 77.4 394.1 77.7C394.4 78 394.6 78.6 394.6 79Z" fill="#ffc800" />
<path d="M394.2 79C394.2 79.3 394.1 79.8 393.9 80C393.7 80.2 393.3 80.4 393 80.4C392.7 80.4 392.3 80.2 392.1 80C391.9 79.8 391.8 79.3 391.8 79C391.8 78.7 391.9 78.2 392.1 78C392.3 77.8 392.7 77.6 393 77.6C393.3 77.6 393.7 77.8 393.9 78C394.1 78.2 394.2 78.7 394.2 79Z" fill="#ff0000" />
<path d="M397 78.4C397 78.8 396.8 79.4 396.6 79.7C396.4 80 395.9 80.2 395.6 80.2C395.3 80.2 394.8 80 394.6 79.7C394.4 79.4 394.2 78.8 394.2 78.4C394.2 78 394.4 77.4 394.6 77.1C394.8 76.8 395.3 76.6 395.6 76.6C395.9 76.6 396.4 76.8 396.6 77.1C396.8 77.4 397 78 397 78.4Z" fill="#00c8ff" />
<path d="M396.5 78.4C396.5 78.7 396.4 79.1 396.2 79.3C396.1 79.5 395.8 79.7 395.6 79.7C395.4 79.7 395.1 79.5 395 79.3C394.8 79.1 394.7 78.7 394.7 78.4C394.7 78.1 394.8 77.7 395 77.5C395.1 77.3 395.4 77.1 395.6 77.1C395.8 77.1 396.1 77.3 396.2 77.5C396.4 77.7 396.5 78.1 396.5 78.4Z" fill="#0000ff" />
<path d="M451.6 34.4C451.9 33.3 455.1 33.1 456.8 32.4C458.5 31.7 460.2 30.8 462 30.4C463.8 30 465.7 30.2 467.5 30.1C469.3 30 472.1 28.8 473 29.8C473.9 30.8 473 34 473 36.2C473 38.3 473 40.4 473 42.5C473 44.7 473 46.8 473 48.9C473 51 473 53.1 473 55.3C473 57.4 473 59.5 473 61.6C473 63.8 474 66.8 473 68C472 69.2 468.9 68.7 467 68.6C465.1 68.5 462.8 68.5 461.6 67.4C460.4 66.3 460.1 63.6 460 62C459.9 60.4 460.7 59 461 57.5C461.3 56 462.1 54.6 462 53C461.9 51.4 461 49.7 460.5 48C460 46.3 459.9 44.5 459 43C458.1 41.5 456.5 40.1 455.3 38.7C454.1 37.3 451.4 35.5 451.6 34.4Z" fill="#55ff00" />
<path d="M460 72C460.9 70.6 463.5 68.7 465 68C466.5 67.3 467.7 68 469 68C470.3 68 472.3 66.8 473 68C473.7 69.2 473 72.7 473 75C473 77.3 472 80.7 473 82C474 83.3 477.3 82.5 479 83C480.7 83.5 482.8 83.9 483 85C483.2 86.1 481.3 88.7 480 89.4C478.7 90.1 476.7 89.1 475 89C473.3 88.9 471.4 88.9 470 88.6C468.6 88.3 467.7 87.7 466.5 87.3C465.3 86.9 464.2 87 463 86C461.8 85 459.9 82.6 459.4 81C458.8 79.4 459.6 78 459.7 76.5C459.8 75 459.1 73.4 460 72Z" fill="#55ff00" />
<path d="M478 37C478.7 36.6 481.5 39.7 482.4 41C483.3 42.3 482.9 43.7 483.2 45C483.5 46.3 484 47.7 484 49C484 50.3 483.5 51.7 483.2 53C482.9 54.3 482.7 55.7 482.4 57C482.1 58.3 481.6 59.7 481.2 61C480.8 62.3 480.1 63.5 480 65C479.9 66.5 480.3 68.3 480.5 70C480.7 71.7 480.6 73.3 481 75C481.4 76.7 481.8 79.6 483 80C484.2 80.4 486.7 78.7 488 77.4C489.3 76.1 490.4 73.5 491 72C491.6 70.5 491.5 69.5 491.7 68.3C491.9 67.1 491.9 65.9 492.4 64.6C492.8 63.3 493.7 61.9 494.4 60.6C495.1 59.3 495.1 57.6 496.4 56.6C497.7 55.6 500.2 54.3 502 54.6C503.8 54.9 506.1 57.2 507.2 58.6C508.3 60 508.2 61.5 508.7 63C509.2 64.5 510.1 66 510.2 67.4C510.3 68.9 509.7 70.3 509.4 71.7C509.1 73.1 509.2 74.8 508.6 76C508 77.2 506.8 78.1 505.9 79.1C505 80.1 504.2 81.3 503.2 82.2C502.2 83.1 501.1 83.5 500.1 84.2C499.1 84.9 498.5 85.3 497 86.2C495.5 87.1 493 88.6 491 89.4C489 90.2 486.8 91 485 91C483.2 91 481 90.3 480 89.4C479 88.5 479.3 86.9 479 85.7C478.7 84.5 478.2 83.7 478 82C477.8 80.3 478 77.7 478 75.6C478 73.4 478 71.3 478 69.1C478 67 478 64.9 478 62.7C478 60.6 478 58.4 478 56.3C478 54.1 478 52 478 49.9C478 47.7 478 45.6 478 43.4C478 41.3 477.3 37.4 478 37Z" fill="#55ff00" />
<path d="M499.9 91.8C500 92.7 498.4 94.3 497.4 95C496.4 95.7 495.1 95.7 494 96.1C492.8 96.4 491.7 97 490.6 97.2C489.4 97.3 488.2 97.1 487 97.1C485.8 97 484.5 97.4 483.4 97C482.2 96.6 480.2 95.5 480.1 94.6C480 93.7 481.6 92.1 482.6 91.4C483.6 90.7 484.9 90.7 486 90.3C487.2 90 488.3 89.4 489.4 89.2C490.6 89.1 491.8 89.3 493 89.3C494.2 89.4 495.5 89 496.6 89.4C497.8 89.8 499.8 90.9 499.9 91.8Z" fill="#00ff55" />
<path d="M497.9 92.1C498 92.8 497.2 93.8 496 94.4C494.8 95 492.6 95.7 490.8 96C489 96.2 486.7 96.2 485.4 95.9C484 95.6 483 94.9 482.9 94.3C482.8 93.6 483.6 92.6 484.8 92C486 91.4 488.2 90.7 490 90.4C491.8 90.2 494.1 90.2 495.4 90.5C496.8 90.8 497.8 91.5 497.9 92.1Z" fill="#00ffd0" />
<path d="M495.8 92.5C495.8 93 495.3 93.6 494.5 94C493.8 94.4 492.4 94.8 491.2 95C490.1 95.1 488.7 95.1 487.8 94.9C487 94.7 486.3 94.3 486.2 93.9C486.2 93.5 486.7 92.8 487.5 92.4C488.2 92 489.6 91.6 490.8 91.4C491.9 91.3 493.3 91.3 494.2 91.5C495 91.7 495.7 92.1 495.8 92.5Z" fill="#00c8ff" />
<path d="M496.7 81.2C497 81.9 495.8 83.7 495 84.6C494.2 85.5 493 85.9 492 86.5C491 87.2 490.1 88 489 88.5C488 89 486.8 89.2 485.6 89.5C484.5 89.9 483.4 90.6 482.2 90.6C481 90.6 478.9 90.4 478.5 89.6C478.2 88.9 479.4 87.1 480.2 86.2C481 85.3 482.2 84.9 483.2 84.3C484.2 83.6 485.1 82.8 486.2 82.3C487.2 81.8 488.4 81.6 489.6 81.3C490.7 80.9 491.8 80.2 493 80.2C494.2 80.2 496.3 80.4 496.7 81.2Z" fill="#d0ff00" />
<path d="M495.9 81.6C496.1 82.2 495.5 83.3 494.5 84.3C493.5 85.2 491.4 86.6 489.7 87.4C488 88.2 485.6 88.9 484.2 89.1C482.9 89.2 481.6 88.9 481.4 88.4C481.1 87.8 481.7 86.7 482.7 85.7C483.7 84.8 485.8 83.4 487.5 82.6C489.2 81.8 491.6 81.1 492.9 80.9C494.3 80.8 495.6 81.1 495.9 81.6Z" fill="#ffc800" />
<path d="M495 82.1C495.2 82.4 494.8 83.3 494 84C493.2 84.7 491.6 85.6 490.4 86.2C489.1 86.8 487.3 87.4 486.3 87.5C485.3 87.7 484.3 87.5 484.2 87.1C484 86.8 484.4 85.9 485.2 85.2C486 84.5 487.6 83.6 488.8 83C490.1 82.4 491.9 81.8 492.9 81.7C493.9 81.5 494.9 81.7 495 82.1Z" fill="#ff6000" />
<path d="M493.7 82.9C493.8 83.1 493.5 83.6 493 84C492.6 84.5 491.6 85 490.9 85.4C490.1 85.8 489 86.1 488.4 86.2C487.8 86.3 487.2 86.2 487.1 85.9C487 85.7 487.3 85.2 487.8 84.8C488.2 84.3 489.2 83.8 489.9 83.4C490.7 83 491.8 82.7 492.4 82.6C493 82.5 493.6 82.6 493.7 82.9Z" fill="#ff0000" />
<path d="M469.6 63C469.3 63.8 468.6 64.7 468 65.1C467.3 65.5 466.4 65.6 465.8 65.4C465.1 65.2 464.5 64.4 464.3 63.7C464 63 464.1 61.8 464.4 61C464.7 60.2 465.4 59.3 466 58.9C466.7 58.5 467.6 58.4 468.2 58.6C468.9 58.8 469.5 59.6 469.7 60.3C470 61 469.9 62.2 469.6 63Z" fill="#d0ff00" />
<path d="M473.1 74.2C474 75.7 474.4 78 474.1 79.5C473.7 81.1 472.5 82.9 471.2 83.6C469.9 84.4 467.8 84.6 466.2 84.1C464.7 83.6 462.9 82.1 462.1 80.6C461.2 79.1 460.8 76.8 461.1 75.2C461.5 73.7 462.7 71.9 464 71.2C465.3 70.4 467.4 70.2 469 70.7C470.5 71.2 472.3 72.7 473.1 74.2Z" fill="#00ffd0" />
<path d="M472.7 74.3C473.4 75.6 473.8 77.5 473.5 78.9C473.2 80.2 472.2 81.7 471.1 82.4C470 83 468.2 83.2 466.9 82.7C465.6 82.3 464.1 81 463.3 79.7C462.6 78.4 462.2 76.5 462.5 75.1C462.8 73.8 463.8 72.3 464.9 71.6C466 71 467.8 70.8 469.1 71.3C470.4 71.7 471.9 73 472.7 74.3Z" fill="#ffffff" />
<path d="M473.7 73.5C474.3 74.8 474.5 76.8 474.1 78.2C473.7 79.5 472.6 80.9 471.4 81.4C470.3 82 468.4 81.9 467.2 81.4C465.9 80.8 464.5 79.4 463.9 78.1C463.3 76.8 463.1 74.8 463.5 73.4C463.9 72.1 465 70.7 466.2 70.2C467.3 69.6 469.2 69.7 470.4 70.2C471.7 70.8 473.1 72.2 473.7 73.5Z" fill="#00c8ff" />
<path d="M474.1 73.3C474.6 74.6 474.6 76.4 474.1 77.6C473.7 78.8 472.5 80 471.4 80.5C470.3 80.9 468.6 80.7 467.5 80.1C466.4 79.4 465.2 78 464.7 76.7C464.2 75.4 464.2 73.6 464.7 72.4C465.1 71.2 466.3 70 467.4 69.5C468.5 69.1 470.2 69.3 471.3 69.9C472.4 70.6 473.6 72 474.1 73.3Z" fill="#0000ff" />
<path d="M470 78C470.2 76.8 472.5 75.3 473 76C473.5 76.7 472.2 81 473 82C473.8 83 477.3 81.7 478 82C478.7 82.3 478 83.8 477 84C476 84.2 473.2 84 472 83C470.8 82 469.8 79.2 470 78Z" fill="#ff0000" />
<path d="M463.6 31L468 29.8L473 30.2L473 34.6L468 33Z" fill="#00c8ff"/>
<path d="M465 30.6L467.6 30L469 32.2L466.4 32.6Z" fill="#0000ff"/>
<path d="M469.6 29.8L472 29.6L472.4 32.6L470.4 32.2Z" fill="#ff0000"/>
<path d="M471.6 35L473 34.6L473 65L472 61Z" fill="#00ffd0"/>
<path d="M472.2 37L473 36.6L473 63L472.4 59Z" fill="#0000ff"/>
<path d="M478 39C478.4 38.5 479.7 40.7 480.5 41.5C481.3 42.3 482.2 42.6 483 44C483.8 45.4 485 48.2 485 50C485 51.8 483.9 53.8 483 55C482.1 56.2 480.4 57 479.6 57C478.8 57 478.3 56.2 478 55C477.7 53.8 478 51.4 478 49.7C478 47.9 478 46.1 478 44.3C478 42.6 477.6 39.5 478 39Z" fill="#00ffd0" />
<path d="M483.6 44.5C483.7 45.6 483.7 46.9 483.4 47.7C483.1 48.5 482.4 49.2 481.8 49.3C481.2 49.4 480.3 49 479.7 48.4C479.2 47.7 478.6 46.5 478.4 45.5C478.3 44.4 478.3 43.1 478.6 42.3C478.9 41.5 479.6 40.8 480.2 40.7C480.8 40.6 481.7 41 482.3 41.6C482.8 42.3 483.4 43.5 483.6 44.5Z" fill="#ffc800" />
<path d="M482.8 44.7C482.9 45.5 482.9 46.5 482.7 47.1C482.5 47.8 482 48.3 481.6 48.4C481.2 48.4 480.6 48.1 480.2 47.6C479.8 47.1 479.4 46.1 479.2 45.3C479.1 44.5 479.1 43.5 479.3 42.9C479.5 42.2 480 41.7 480.4 41.6C480.8 41.6 481.4 41.9 481.8 42.4C482.2 42.9 482.6 43.9 482.8 44.7Z" fill="#ff0000" />
<path d="M484 51.6C484 52.1 483.7 52.8 483.4 53.2C483.1 53.5 482.5 53.8 482 53.8C481.5 53.8 480.9 53.5 480.6 53.2C480.3 52.8 480 52.1 480 51.6C480 51.1 480.3 50.4 480.6 50C480.9 49.7 481.5 49.4 482 49.4C482.5 49.4 483.1 49.7 483.4 50C483.7 50.4 484 51.1 484 51.6Z" fill="#00c8ff" />
<path d="M483 51.6C483 52 482.8 52.5 482.6 52.7C482.4 53 482.1 53.2 481.8 53.2C481.5 53.2 481.1 53 480.9 52.7C480.8 52.5 480.6 52 480.6 51.6C480.6 51.2 480.8 50.7 480.9 50.5C481.1 50.2 481.5 50 481.8 50C482.1 50 482.4 50.2 482.6 50.5C482.8 50.7 483 51.2 483 51.6Z" fill="#0000ff" />
<path d="M478 37L479 37.4L479.2 65L478 66Z" fill="#0000ff"/>
<path d="M317 43.9C316.4 46.9 314.3 55.1 313.5 62C312.7 68.9 312.6 76.2 312.4 85C312.2 93.8 312.2 101 312.2 115C312.2 129 312.2 160 312.2 169M319 43.7C318.4 48.1 316.2 63.1 315.5 70C314.8 76.9 314.7 77.5 314.6 85C314.5 92.5 314.4 105 315 115C315.6 125 316.7 136 318 145C319.3 154 322.2 165 323 169M321 43.6C320.5 48 318.6 63.1 318 70C317.4 76.9 317.2 77.8 317.4 85C317.6 92.2 317.7 103.7 319 113C320.3 122.3 322.7 133 325 141C327.3 149 331 156.3 333 161C335 165.7 336.3 167.7 337 169M323.5 43.5C323.2 47.9 321.9 63.1 321.5 70C321.1 76.9 320.8 78.2 321.4 85C322 91.8 323.1 102.7 325 111C326.9 119.3 329.7 127.7 333 135C336.3 142.3 340.8 149.3 345 155C349.2 160.7 355.8 166.7 358 169M326 43.3C325.8 47.8 325 63.1 325 70C325 76.9 325 78.8 326 85C327 91.2 328.5 99.7 331 107C333.5 114.3 337 122.3 341 129C345 135.7 350 141.7 355 147C360 152.3 366.2 157.3 371 161C375.8 164.7 381.8 167.7 384 169M328.5 43.1C328.6 47.6 328.6 63 329 70C329.4 77 329.7 79.2 331 85C332.3 90.8 334.2 98.3 337 105C339.8 111.7 343.7 118.8 348 125C352.3 131.2 357.5 137.2 363 142C368.5 146.8 375 150.7 381 154C387 157.3 393.3 160 399 162C404.7 164 409.7 165 415 166C420.3 167 426 167.6 431 168C436 168.4 438 168.6 445 168.6C452 168.6 464.7 168.4 473 168C481.3 167.6 488 166.8 495 166C502 165.2 507.5 164 515 163C522.5 162 535.8 160.5 540 160M331 43C331.3 46.7 332 58 333 65C334 72 335 78.3 337 85C339 91.7 341.7 98.7 345 105C348.3 111.3 352.7 117.7 357 123C361.3 128.3 365.7 132.8 371 137C376.3 141.2 383.3 145.2 389 148C394.7 150.8 399 152.3 405 154C411 155.7 418.3 157.1 425 158C431.7 158.9 438.3 159.2 445 159.4C451.7 159.6 458.3 159.4 465 159C471.7 158.6 478.3 157.8 485 157C491.7 156.2 500 154.8 505 154C510 153.2 509.2 153.3 515 152C520.8 150.7 535.8 147 540 146M337 42.6C337.8 46.4 339.8 57.9 342 65C344.2 72.1 346.8 78.3 350 85C353.2 91.7 357.2 99 361 105C364.8 111 368.5 116.5 373 121C377.5 125.5 382.7 129.2 388 132C393.3 134.8 398.8 136.2 405 138C411.2 139.8 418.3 142.2 425 143C431.7 143.8 438.3 143.2 445 143C451.7 142.8 458.3 142.3 465 141.6C471.7 140.9 478.3 139.9 485 139C491.7 138.1 500 136.8 505 136C510 135.2 509.2 135.3 515 134C520.8 132.7 535.8 129 540 128M343.5 42.2C345.1 46 349.4 57.9 353 65C356.6 72.1 361.3 79.7 365 85C368.7 90.3 371 93 375 97C379 101 384 105.3 389 109C394 112.7 401.3 117.1 405 119C408.7 120.9 406.7 119.9 411 120.6C415.3 121.3 424.5 122.9 431 123C437.5 123.1 444.3 122.3 450 121C455.7 119.7 460.5 116.7 465 115C469.5 113.3 473.3 111.8 477 111C480.7 110.2 481.8 110.6 487 110.4C492.2 110.2 501.5 110.2 508 110C514.5 109.8 520.7 109.8 526 109C531.3 108.2 537.7 105.7 540 105M348.5 41.9C350.4 45.4 356.4 57.3 360 63C363.6 68.7 366.8 72.3 370 76C373.2 79.7 375.5 81.8 379 85C382.5 88.2 386.7 92.3 391 95C395.3 97.7 400.3 99.3 405 101C409.7 102.7 414.7 104.4 419 105C423.3 105.6 426.7 105.2 431 104.4C435.3 103.6 441 101.9 445 100C449 98.1 452.7 95.2 455 93C457.3 90.8 458 88.7 459 87C460 85.3 460.5 85 461 83C461.5 81 461.5 77.5 462 75C462.5 72.5 463.7 69.2 464 68M354 41.6C355.5 44.2 360.2 52.3 363 57C365.8 61.7 368 66 371 70C374 74 377.3 78.2 381 81C384.7 83.8 389 84.8 393 86.5C397 88.2 401 89.8 405 91C409 92.2 413 93.7 417 94C421 94.3 425 93.8 429 93C433 92.2 437.3 90.7 441 89C444.7 87.3 448 85.2 451 83C454 80.8 457.3 78.2 459 76C460.7 73.8 460.2 71.8 461 70C461.8 68.2 462.5 66.1 464 65C465.5 63.9 469 63.8 470 63.5M362 41.1C363.8 43.1 369.5 48.7 373 53C376.5 57.3 380.8 64.2 383 67C385.2 69.8 385.7 69.5 386.2 70M391 41C394 41.6 402.7 43.9 409 44.6C415.3 45.3 423 45.4 429 45C435 44.6 440.3 43.5 445 42C449.7 40.5 453.7 37.8 457 36C460.3 34.2 463.7 31.8 465 31M391 43.4C394 44 402.7 46.2 409 46.9C415.3 47.5 423 47.7 429 47.2C435 46.7 440.3 45.6 445 44C449.7 42.4 453.6 39.7 457 37.6C460.4 35.5 464 32.6 465.4 31.6M391 45.8C394 46.4 402.7 48.6 409 49.2C415.3 49.8 423 49.9 429 49.4C435 48.9 440.3 47.7 445 46C449.7 44.3 453.5 41.5 457 39.2C460.5 36.9 464.3 33.4 465.8 32.2M391 48.2C394 48.7 402.7 50.9 409 51.4C415.3 52 423 52.2 429 51.6C435 51 440.3 49.8 445 48C449.7 46.2 453.5 43.3 457 40.8C460.5 38.3 464.7 34.1 466.2 32.8M391 50.6C394 51.1 402.7 53.2 409 53.7C415.3 54.3 423 54.4 429 53.8C435 53.2 440.3 51.9 445 50C449.7 48.1 453.4 45.2 457 42.4C460.6 39.6 465 34.9 466.6 33.4M391 53C394 53.5 402.7 55.5 409 56C415.3 56.5 423 56.7 429 56C435 55.3 440.3 54 445 52C449.7 50 453.3 47 457 44C460.7 41 465.3 35.7 467 34M391 62C393.3 63 398.7 66.6 405 68C411.3 69.4 422.3 70.9 429 70.6C435.7 70.3 440.3 68.3 445 66C449.7 63.7 453.7 60.2 457 57C460.3 53.8 463 50.3 465 47C467 43.7 468.3 38.7 469 37M391 73C393.3 74 398.7 77.6 405 79C411.3 80.4 422.3 81.8 429 81.6C435.7 81.4 440.3 79.9 445 78C449.7 76.1 453.7 72.7 457 70C460.3 67.3 462.7 63.8 465 62C467.3 60.2 470 59.5 471 59M478 30.6C480.3 31 487.3 32.3 492 33C496.7 33.7 501.3 34.6 506 35C510.7 35.4 514.3 35.5 520 35.4C525.7 35.3 536.7 34.7 540 34.6M486 30.4C487.7 31.7 492.3 36.3 496 38C499.7 39.7 503.7 40.3 508 40.6C512.3 40.9 516.7 40.5 522 40C527.3 39.5 537 37.8 540 37.4M478 57C479 58.3 482 62.3 484 65C486 67.7 487.7 71 490 73C492.3 75 495.3 76.2 498 77C500.7 77.8 502.3 78.5 506 78C509.7 77.5 514.3 76 520 74C525.7 72 536.7 67.3 540 66" fill="none" stroke="#2a2a2a" stroke-width="0.62" stroke-linejoin="round"/>
<path d="M312.5 82.8L311.5 79.5L313.5 79.5ZM312.2 114.2L311.2 110.9L313.2 110.9ZM312.2 151.8L311.2 148.5L313.2 148.5ZM314.7 79.2L313.9 75.8L315.9 76ZM315 114.5L313.8 111.3L315.8 111.2ZM319.3 152.1L317.7 149.1L319.6 148.7ZM317.3 79.8L316.5 76.5L318.4 76.6ZM319 113.3L317.6 110.1L319.6 109.9ZM328.5 150.7L326.3 148L328.1 147.2ZM321 79L320.2 75.6L322.2 75.7ZM325.3 112.6L323.7 109.6L325.6 109.1ZM341.3 149.8L338.7 147.5L340.4 146.5ZM325.1 77.5L324 74.2L326 74.2ZM332.3 110.6L330.2 107.9L332.1 107.2ZM355.8 147.9L352.9 146.1L354.3 144.8ZM329.3 74L328.1 70.8L330 70.6ZM335.9 102.4L333.9 99.6L335.8 98.9ZM353.7 132.4L350.8 130.5L352.3 129.2ZM396.9 161.3L393.5 161L394.2 159.1ZM454.5 168.5L451.2 169.6L451.2 167.6ZM512.6 163.3L509.5 164.8L509.2 162.8ZM334.2 72.5L332.6 69.4L334.6 69.1ZM342.2 99.3L340 96.7L341.9 95.9ZM360.7 127.3L357.8 125.5L359.3 124.2ZM416.8 156.7L413.4 157L413.8 155.1ZM486.7 156.8L483.5 158.2L483.3 156.2ZM343.5 69.6L341.5 66.8L343.4 66.1ZM354.2 93.4L351.8 90.9L353.6 90ZM371.5 119.5L368.6 117.6L370.1 116.3ZM400.2 136.6L396.8 136.6L397.4 134.7ZM459.4 142.1L456.2 143.4L456.1 141.4ZM511.1 134.9L508.1 136.5L507.7 134.6ZM353.4 65.8L351.1 63.3L352.8 62.4ZM368.7 90L365.9 88L367.5 86.8ZM397.7 114.7L394.3 113.8L395.4 112.2ZM436.7 122.9L433.4 124L433.4 122ZM475.4 111.4L472.5 113.3L471.9 111.4ZM518.3 109.7L515.1 110.8L515 108.8ZM358.6 60.8L356.2 58.4L357.9 57.4ZM377.5 83.6L374.4 82.1L375.7 80.6ZM408.1 102.1L404.6 101.9L405.3 100.1ZM451.8 95.8L449.7 98.5L448.6 96.9ZM366.3 62.7L363.8 60.4L365.5 59.4ZM394.1 87L390.7 86.6L391.4 84.8ZM426.4 93.5L423.3 94.9L423 93ZM457.2 78L455.4 80.9L454.1 79.4ZM383.2 67.3L380.5 65.2L382.1 64.1ZM427.2 45.1L423.9 46.2L423.8 44.2ZM427.7 47.3L424.4 48.5L424.3 46.5ZM428.2 49.5L425 50.6L424.9 48.7ZM428.8 51.6L425.6 52.8L425.4 50.9ZM429.3 53.8L426.1 55.1L426 53.1ZM429.9 55.9L426.7 57.2L426.5 55.2ZM433.9 70L430.8 71.5L430.4 69.6ZM431 81.5L427.8 82.6L427.7 80.7ZM461.6 65.5L460.1 68.6L458.6 67.2ZM523 35.3L519.7 36.4L519.6 34.4ZM519 40.3L515.8 41.6L515.6 39.6ZM510.7 77L507.7 78.8L507.2 76.8Z" fill="#222" stroke="#222" stroke-width="0.3"/>
<path d="M311.4 44.2L386.2 39.6" fill="none" stroke="#222" stroke-width="0.8"/>
<path d="M391 33.2L472.6 30.1" fill="none" stroke="#222" stroke-width="0.8"/>
<path d="M478 30.4L540 30.1" fill="none" stroke="#222" stroke-width="0.8"/>
<path d="M386.2 39.6V81.8H391V33.2" fill="#fff" stroke="#222" stroke-width="0.9"/>
<path d="M472.6 30.1V81.8H478V30.4" fill="#fff" stroke="#222" stroke-width="0.9"/>
<path d="M385.9 41V82.1H390" fill="none" stroke="#b00000" stroke-width="1.0"/>
<path d="M391.5 36V80.5" fill="none" stroke="#0000d0" stroke-width="0.9"/>
<path d="M472.2 32V81" fill="none" stroke="#0000d0" stroke-width="1.0"/>
<path d="M478.4 33V80" fill="none" stroke="#0000d0" stroke-width="0.9"/>
<path d="M311.4 15V169.5H540" fill="none" stroke="#000" stroke-width="1.25"/>
<path d="M333.9 169.5v-5.5M379.9 169.5v-5.5M425.3 169.5v-5.5M471.3 169.5v-5.5M516.8 169.5v-5.5M311.4 37.6h7M311.4 81.3h7M311.4 125.8h7M311.4 169.5h7" fill="none" stroke="#000" stroke-width="1.1"/>
<g font-family='"Liberation Sans", sans-serif' font-size="10.5" fill="#111" stroke="#111" stroke-width="0.2">
<text x="333.9" y="181.5" text-anchor="middle">-0.2</text>
<text x="379.9" y="181.5" text-anchor="middle">-0.1</text>
<text x="425.3" y="181.5" text-anchor="middle">0</text>
<text x="471.3" y="181.5" text-anchor="middle">0.1</text>
<text x="516.8" y="181.5" text-anchor="middle">0.2</text>
<text x="305.9" y="41.2" text-anchor="end">0</text>
<text x="305.9" y="84.89999999999999" text-anchor="end">-0.1</text>
<text x="305.9" y="129.4" text-anchor="end">-0.2</text>
<text x="305.9" y="173.1" text-anchor="end">-0.3</text>
</g>
<g font-family='"Liberation Serif", serif' font-size="15.4" fill="#111" stroke="#111" stroke-width="0.1"><text x="385.7" y="16.900000000000002">(b)</text><text transform="translate(409.6 16.900000000000002) scale(1.22 1)" font-style="italic" font-size="16.0" stroke-width="0.05">η</text><text x="419.3" y="20.8" font-size="8.6" stroke="#111" stroke-width="0.15">1</text><text x="423.6" y="16.900000000000002">=</text><text x="436.7" y="16.900000000000002">max</text></g>
<text x="410.8" y="192.6" font-family='"Liberation Serif", serif' font-size="13.0" fill="#111">x (m)</text>
<text transform="translate(295.4 105.5) rotate(-90)" text-anchor="middle" font-family='"Liberation Serif", serif' font-size="13.5" fill="#111">y (m)</text>
</g>
<g id="C">
<path d="M86.4 243C86.7 241.9 87.7 240.7 89 240.2C90.3 239.7 93.1 239.7 94.4 240.2C95.7 240.7 96.7 241.9 97 243C97.3 244.1 95.8 245.1 96 246.6C96.2 248.1 97.4 250.2 98.4 252C99.4 253.8 100.9 256 102 257.4C103.1 258.8 104.3 260.8 104.8 260.2C105.3 259.6 104.7 255.8 104.8 254C104.9 252.2 105.1 251 105.2 249.5C105.3 248 105.4 246.3 105.6 245C105.8 243.7 106.1 242.7 106.4 241.5C106.7 240.3 106.9 238.8 107.2 238C107.5 237.2 107.9 236.1 108 237C108.1 237.9 108 241.1 108 243.2C108 245.3 108 247.3 108 249.4C108 251.5 108 253.5 108 255.6C108 257.7 108 259.7 108 261.8C108 263.9 108.6 267.1 108 268C107.4 268.9 106 268.1 104.6 267.4C103.2 266.7 100.9 265.1 99.6 264C98.3 262.9 97.9 261.8 97 260.7C96.1 259.6 95.2 258.5 94.4 257.4C93.6 256.3 93.1 255.1 92.4 254C91.7 252.9 91.3 251.8 90.4 250.6C89.5 249.4 87.9 248.3 87.2 247C86.5 245.7 86.1 244.1 86.4 243Z" fill="#00ff55" />
<path d="M106.4 236L108 235L108 267L106.4 265L104.8 251Z" fill="#00c8ff"/>
<path d="M106.8 238.6L108 237.4L108 264L106.8 262L105.8 251Z" fill="#ffffff"/>
<path d="M101 265.7C100.9 266.1 100.3 266.5 99.7 266.6C99.1 266.7 98.1 266.5 97.4 266.3C96.7 266 95.8 265.5 95.4 265C95 264.6 94.8 263.9 95 263.5C95.1 263.1 95.7 262.7 96.3 262.6C96.9 262.5 97.9 262.7 98.6 262.9C99.3 263.2 100.2 263.7 100.6 264.2C101 264.6 101.2 265.3 101 265.7Z" fill="#d0ff00" />
<path d="M100.1 265.4C100 265.6 99.7 265.8 99.3 265.9C99 266 98.5 265.9 98.1 265.7C97.7 265.6 97.2 265.3 97 265C96.7 264.8 96.6 264.4 96.7 264.2C96.8 264 97.1 263.8 97.5 263.7C97.8 263.6 98.3 263.7 98.7 263.9C99.1 264 99.6 264.3 99.8 264.6C100.1 264.8 100.2 265.2 100.1 265.4Z" fill="#ffc800" />
<path d="M107.6 272.2C107.7 273 107.6 274 107.3 274.7C107 275.3 106.3 275.9 105.8 275.9C105.2 276 104.4 275.7 104 275.3C103.5 274.8 103 273.8 102.8 273C102.7 272.2 102.8 271.2 103.1 270.5C103.4 269.9 104.1 269.3 104.6 269.2C105.2 269.2 106 269.5 106.5 269.9C106.9 270.4 107.4 271.4 107.6 272.2Z" fill="#d0ff00" />
<path d="M107 272.3C107.1 272.9 107 273.8 106.8 274.3C106.6 274.8 106.1 275.3 105.7 275.4C105.3 275.4 104.7 275.2 104.3 274.8C103.9 274.4 103.5 273.6 103.4 272.9C103.3 272.3 103.4 271.4 103.6 270.9C103.8 270.4 104.3 269.9 104.7 269.8C105.1 269.8 105.7 270 106.1 270.4C106.5 270.8 106.9 271.6 107 272.3Z" fill="#ff0000" />
<path d="M107.4 279C107.4 279.3 107.1 279.7 106.7 279.9C106.3 280.1 105.6 280.2 105 280.2C104.4 280.2 103.7 280.1 103.3 279.9C102.9 279.7 102.6 279.3 102.6 279C102.6 278.7 102.9 278.3 103.3 278.1C103.7 277.9 104.4 277.8 105 277.8C105.6 277.8 106.3 277.9 106.7 278.1C107.1 278.3 107.4 278.7 107.4 279Z" fill="#00ff55" />
<path d="M116.2 275.4C116.2 275.7 116 276.2 115.7 276.4C115.4 276.6 114.8 276.8 114.4 276.8C114 276.8 113.4 276.6 113.1 276.4C112.8 276.2 112.6 275.7 112.6 275.4C112.6 275.1 112.8 274.6 113.1 274.4C113.4 274.2 114 274 114.4 274C114.8 274 115.4 274.2 115.7 274.4C116 274.6 116.2 275.1 116.2 275.4Z" fill="#00c8ff" />
<path d="M114 230C114.7 229 117.5 229.8 118.4 231C119.3 232.2 119.5 235.2 119.6 237C119.7 238.8 119.2 240.3 119 242C118.8 243.7 118.6 245.5 118.4 247C118.2 248.5 117.9 249.7 117.7 251C117.5 252.3 117.6 254 117 255C116.4 256 114.5 257.8 114 257C113.5 256.2 114 252.5 114 250.2C114 248 114 245.8 114 243.5C114 241.2 114 239 114 236.8C114 234.5 113.3 231 114 230Z" fill="#55ff00" />
<path d="M115.6 229.4L118.4 230.2L119 235L117.6 240L115.6 239Z" fill="#ffc800"/>
<path d="M116 229.4L118.2 230.2L118.4 234.6L117.2 237.4L116 236Z" fill="#ff0000"/>
<path d="M107.4 266L107.4 272.4L115.2 272.4L116 270.6L116 230L113.6 230L113.6 270.2L109 270.2L109 266Z" fill="#0000ff"/>
<path d="M177.4 227.4C178.1 226.3 181 224.7 183 224C185 223.3 187.3 223.3 189.5 223C191.7 222.7 194.9 221.1 196 222C197.1 222.9 196 226.2 196 228.2C196 230.3 196 232.4 196 234.5C196 236.6 196 238.7 196 240.8C196 242.8 196 244.9 196 247C196 249.1 196 251.2 196 253.2C196 255.3 196 257.4 196 259.5C196 261.6 196 263.7 196 265.8C196 267.8 196.5 270.8 196 272C195.5 273.2 194.2 272.2 193 273C191.8 273.8 190.3 276.8 189 277C187.7 277.2 185.7 275.2 185 274C184.3 272.8 184.9 271 184.8 269.5C184.7 268 184.3 266.6 184.6 265C184.8 263.4 185.7 261.7 186.3 260C186.9 258.3 187.8 256.7 188 255C188.2 253.3 187.7 251.7 187.5 250C187.3 248.3 187.3 246.7 187 245C186.7 243.3 186 241.7 185.5 240C185 238.3 185.1 236.6 184 235C182.9 233.4 180.1 231.9 179 230.6C177.9 229.3 176.7 228.5 177.4 227.4Z" fill="#55ff00" />
<path d="M194.6 251C194.6 251.8 194.4 253 194.1 253.6C193.9 254.2 193.4 254.6 193 254.6C192.6 254.6 192.1 254.2 191.9 253.6C191.6 253 191.4 251.8 191.4 251C191.4 250.2 191.6 249 191.9 248.4C192.1 247.8 192.6 247.4 193 247.4C193.4 247.4 193.9 247.8 194.1 248.4C194.4 249 194.6 250.2 194.6 251Z" fill="#d0ff00" />
<path d="M194.6 262C194.6 262.8 194.4 263.7 194.1 264.3C193.9 264.8 193.4 265.2 193 265.2C192.6 265.2 192.1 264.8 191.9 264.3C191.6 263.7 191.4 262.8 191.4 262C191.4 261.2 191.6 260.3 191.9 259.7C192.1 259.2 192.6 258.8 193 258.8C193.4 258.8 193.9 259.2 194.1 259.7C194.4 260.3 194.6 261.2 194.6 262Z" fill="#d0ff00" />
<path d="M196 258C196 258.6 195.9 259.3 195.7 259.7C195.5 260.1 195.2 260.4 195 260.4C194.8 260.4 194.5 260.1 194.3 259.7C194.1 259.3 194 258.6 194 258C194 257.4 194.1 256.7 194.3 256.3C194.5 255.9 194.8 255.6 195 255.6C195.2 255.6 195.5 255.9 195.7 256.3C195.9 256.7 196 257.4 196 258Z" fill="#ffc800" />
<path d="M195 223L196 222.6L196 271L195 269Z" fill="#00c8ff"/>
<path d="M225 253C226.7 252.3 229.2 251.5 231 252C232.8 252.5 234.9 254.7 236 256C237.1 257.3 236.9 258.7 237.3 260C237.7 261.3 238.5 262.6 238.6 264C238.7 265.4 238.1 267 237.8 268.5C237.5 270 237.8 271.4 237 273C236.2 274.6 234.3 276.8 233 278C231.7 279.2 230.3 279.3 229 280C227.7 280.7 226.5 281.6 225 282C223.5 282.4 221.7 282.5 220 282.7C218.3 282.9 216.7 283.8 215 283.4C213.3 283 210.6 282 210 280.6C209.4 279.2 210.8 276.4 211.4 275C212 273.6 212.9 273 213.7 272C214.5 271 215.5 270.1 216 269C216.5 267.9 216.5 266.7 216.7 265.5C216.9 264.3 216.8 263.6 217.4 262C218.1 260.4 219.3 257.5 220.6 256C221.9 254.5 223.3 253.7 225 253Z" fill="#55ff00" />
<path d="M231.2 274.3C231.3 275 230.8 276 229.9 276.7C229 277.5 227.2 278.3 225.7 278.7C224.3 279.1 222.3 279.3 221.1 279.1C220 278.9 219 278.3 218.8 277.7C218.7 277 219.2 276 220.1 275.3C221 274.5 222.8 273.7 224.3 273.3C225.7 272.9 227.7 272.7 228.9 272.9C230 273.1 231 273.7 231.2 274.3Z" fill="#d0ff00" />
<path d="M220.2 281.2C220.1 281.6 219.5 282.1 218.9 282.3C218.2 282.5 217.1 282.5 216.3 282.4C215.5 282.2 214.4 281.8 213.9 281.4C213.3 281 213 280.4 213.1 280C213.1 279.6 213.7 279.1 214.3 278.9C215 278.7 216.1 278.7 216.9 278.8C217.7 279 218.8 279.4 219.3 279.8C219.9 280.2 220.2 280.8 220.2 281.2Z" fill="#d0ff00" />
<path d="M230.6 285.9C230.8 286.5 230.2 287.6 229.1 288.4C228.1 289.3 226 290.3 224.3 290.9C222.6 291.4 220.2 291.8 218.9 291.7C217.6 291.7 216.4 291.2 216.2 290.6C216 289.9 216.6 288.8 217.7 288C218.7 287.1 220.8 286.1 222.5 285.5C224.2 285 226.6 284.6 227.9 284.7C229.2 284.7 230.4 285.2 230.6 285.9Z" fill="#00ff55" />
<path d="M201.6 231C202.6 230.2 206.3 231.2 207.4 232C208.5 232.8 207.9 234.3 208.2 235.5C208.5 236.7 209 237.8 209 239C209 240.2 208.5 241.7 208.2 243C207.9 244.3 207.4 245.7 207.4 247C207.4 248.3 208.1 249.7 208.4 251C208.7 252.3 209.4 253.4 209.4 255C209.4 256.6 208.7 258.7 208.4 260.5C208.1 262.3 208.5 264.9 207.4 266C206.3 267.1 202.6 268.2 201.6 267.4C200.6 266.6 201.6 263.4 201.6 261.3C201.6 259.3 201.6 257.3 201.6 255.3C201.6 253.2 201.6 251.2 201.6 249.2C201.6 247.2 201.6 245.2 201.6 243.1C201.6 241.1 201.6 239.1 201.6 237.1C201.6 235 200.6 231.8 201.6 231Z" fill="#55ff00" />
<path d="M207.6 234C207.6 234.8 207.3 235.8 206.8 236.4C206.4 237 205.6 237.4 205 237.4C204.4 237.4 203.6 237 203.2 236.4C202.7 235.8 202.4 234.8 202.4 234C202.4 233.2 202.7 232.2 203.2 231.6C203.6 231 204.4 230.6 205 230.6C205.6 230.6 206.4 231 206.8 231.6C207.3 232.2 207.6 233.2 207.6 234Z" fill="#ffc800" />
<path d="M207 233.6C207 234.2 206.7 235 206.4 235.4C206.1 235.9 205.5 236.2 205 236.2C204.5 236.2 203.9 235.9 203.6 235.4C203.3 235 203 234.2 203 233.6C203 233 203.3 232.2 203.6 231.8C203.9 231.3 204.5 231 205 231C205.5 231 206.1 231.3 206.4 231.8C206.7 232.2 207 233 207 233.6Z" fill="#ff0000" />
<path d="M207.6 248.3C207.4 249.2 207 250.2 206.6 250.8C206.1 251.3 205.4 251.6 205 251.6C204.5 251.5 204 250.9 203.8 250.3C203.5 249.6 203.5 248.5 203.6 247.7C203.8 246.8 204.2 245.8 204.7 245.2C205.1 244.7 205.8 244.4 206.2 244.4C206.7 244.5 207.2 245.1 207.4 245.7C207.7 246.4 207.7 247.5 207.6 248.3Z" fill="#ffc800" />
<path d="M206.8 247.2C206.7 247.6 206.5 248.1 206.2 248.4C206 248.7 205.6 248.8 205.3 248.8C205 248.7 204.7 248.4 204.5 248.1C204.4 247.8 204.3 247.2 204.4 246.8C204.5 246.4 204.7 245.9 205 245.6C205.2 245.3 205.6 245.2 205.9 245.2C206.2 245.3 206.5 245.6 206.7 245.9C206.8 246.2 206.9 246.8 206.8 247.2Z" fill="#ff0000" />
<path d="M201.6 235L204.2 237L204.4 250L203.4 263L201.6 265Z" fill="#00c8ff"/>
<path d="M201.6 236L203.2 237.4L203.2 255L201.6 263Z" fill="#0000ff"/>
<path d="M200.2 276C200.2 277.4 199.5 279.2 198.7 280.2C197.8 281.2 196.2 282 195 282C193.8 282 192.2 281.2 191.3 280.2C190.5 279.2 189.8 277.4 189.8 276C189.8 274.6 190.5 272.8 191.3 271.8C192.2 270.8 193.8 270 195 270C196.2 270 197.8 270.8 198.7 271.8C199.5 272.8 200.2 274.6 200.2 276Z" fill="#00ffd0" />
<path d="M199.4 276C199.4 277.2 198.8 278.8 198.1 279.7C197.4 280.5 196 281.2 195 281.2C194 281.2 192.6 280.5 191.9 279.7C191.2 278.8 190.6 277.2 190.6 276C190.6 274.8 191.2 273.2 191.9 272.3C192.6 271.5 194 270.8 195 270.8C196 270.8 197.4 271.5 198.1 272.3C198.8 273.2 199.4 274.8 199.4 276Z" fill="#00c8ff" />
<path d="M198 276C198 277 197.6 278.3 197 279C196.4 279.7 195.4 280.2 194.6 280.2C193.8 280.2 192.8 279.7 192.2 279C191.6 278.3 191.2 277 191.2 276C191.2 275 191.6 273.7 192.2 273C192.8 272.3 193.8 271.8 194.6 271.8C195.4 271.8 196.4 272.3 197 273C197.6 273.7 198 275 198 276Z" fill="#0000ff" />
<path d="M208 281.1C207.8 281.6 207.2 282.2 206.6 282.4C205.9 282.6 204.9 282.5 204.2 282.3C203.5 282 202.7 281.4 202.3 280.8C201.9 280.3 201.8 279.4 202 278.9C202.2 278.4 202.8 277.8 203.4 277.6C204.1 277.4 205.1 277.5 205.8 277.7C206.5 278 207.3 278.6 207.7 279.2C208.1 279.7 208.2 280.6 208 281.1Z" fill="#00c8ff" />
<path d="M206.7 280.6C206.6 280.9 206.2 281.3 205.9 281.4C205.5 281.5 204.9 281.5 204.5 281.3C204.1 281.2 203.7 280.8 203.5 280.5C203.3 280.2 203.2 279.7 203.3 279.4C203.4 279.1 203.8 278.7 204.1 278.6C204.5 278.5 205.1 278.5 205.5 278.7C205.9 278.8 206.3 279.2 206.5 279.5C206.7 279.8 206.8 280.3 206.7 280.6Z" fill="#0000ff" />
<path d="M199.4 272.7C199.6 273.1 199.7 273.6 199.7 274C199.6 274.4 199.4 274.8 199.1 275C198.8 275.1 198.3 275.1 198 275C197.6 274.9 197.2 274.5 197 274.1C196.8 273.7 196.7 273.2 196.7 272.8C196.8 272.4 197 272 197.3 271.8C197.6 271.7 198.1 271.7 198.4 271.8C198.8 271.9 199.2 272.3 199.4 272.7Z" fill="#ff0000" />
<path d="M206.3 275.5C206.2 276.3 205.5 277.2 204.7 277.7C203.9 278.1 202.6 278.3 201.6 278.1C200.6 278 199.5 277.3 198.9 276.6C198.3 276 197.9 274.9 198.1 274.1C198.2 273.3 198.9 272.4 199.7 271.9C200.5 271.5 201.8 271.3 202.8 271.4C203.8 271.6 204.9 272.3 205.5 272.9C206.1 273.6 206.5 274.7 206.3 275.5Z" fill="#000000" />
<path d="M88 233C89.7 234.5 94.8 239 98 242C101.2 245 105.2 249.2 107 251C108.8 252.8 108.3 252.2 108.6 252.5M65.5 233.6C67.2 235.5 71.9 241.1 76 245C80.1 248.9 86 253.5 90 257C94 260.5 97.3 263.7 100 266C102.7 268.3 105 270.2 106 271M46 234C47.5 235.8 51.9 241.3 55 245C58.1 248.7 61.1 252 64.6 256C68.1 260 71.8 264.8 76 269C80.2 273.2 86 278.5 90 281C94 283.5 96.7 283.4 100 284C103.3 284.6 106.7 284.9 110 284.7C113.3 284.5 115.7 284.4 119.7 282.7C123.8 281 130.1 277.3 134.3 274.7C138.5 272.1 142.2 269.5 145 267.3C147.8 265.1 147.4 264.7 151 261.7C154.6 258.7 161.9 253.3 166.7 249.4C171.5 245.5 175.6 241.6 180 238C184.4 234.4 190.2 230.1 193 228C195.8 225.9 196.1 225.9 196.7 225.5M35 235C35.7 236.7 36.5 240.7 39 245C41.5 249.3 45.8 255.5 50 261C54.2 266.5 59 273 64 278C69 283 74.7 287.3 80 291C85.3 294.7 90.7 298.2 96 300C101.3 301.8 106.7 302.2 112 302C117.3 301.8 123.7 300.3 128 299C132.3 297.7 134.7 295.8 138 294C141.3 292.2 145.3 290.2 148 288C150.7 285.8 150.7 284.3 154 281C157.3 277.7 164 272 168 268C172 264 174.7 260.3 178 257C181.3 253.7 185 250.3 188 248C191 245.7 194.7 243.8 196 243M34.2 258C35.8 260.5 40 267.7 44 273C48 278.3 54 284.8 58 290C62 295.2 63 299.8 68 304C73 308.2 81.7 312.3 88 315C94.3 317.7 100.3 319 106 320C111.7 321 116.7 321.8 122 321C127.3 320.2 134 316.5 138 315C142 313.5 142.3 314.2 146 312C149.7 309.8 156 305.7 160 302C164 298.3 167.5 293.5 170 290C172.5 286.5 173.3 283.8 175 281C176.7 278.2 178.2 275.7 180 273C181.8 270.3 184 267.5 186 265C188 262.5 190.3 259.8 192 258C193.7 256.2 195.3 254.7 196 254M34.2 281C35.8 284.5 40.7 297 44 302C47.3 307 50 307.5 54 311C58 314.5 63 319.3 68 323C73 326.7 78.3 330.3 84 333C89.7 335.7 95.3 337.8 102 339C108.7 340.2 116.7 340.8 124 340C131.3 339.2 139.7 336.3 146 334C152.3 331.7 157 329.5 162 326C167 322.5 172 318 176 313C180 308 183.7 300.2 186 296C188.3 291.8 188.7 290.5 190 288C191.3 285.5 193 282.8 194 281C195 279.2 195.7 277.7 196 277M34.2 301C35.5 303.5 39 311.2 42 316C45 320.8 48 325.3 52 330C56 334.7 61 340.2 66 344C71 347.8 76.3 350.6 82 353C87.7 355.4 94 357.4 100 358.4C106 359.4 110.7 359.2 118 359C125.3 358.8 136.7 358.5 144 357C151.3 355.5 156 353.2 162 350C168 346.8 175 342.3 180 338C185 333.7 188.7 329 192 324C195.3 319 198 313.3 200 308C202 302.7 203.5 296.3 204 292C204.5 287.7 203.2 283.7 203 282M34.2 330C35.2 332 37.7 338.3 40 342C42.3 345.7 45.3 349.2 48 352C50.7 354.8 54 357.4 56 359C58 360.6 59.3 361.2 60 361.6M179 361.6C180.8 360.3 186.5 356.9 190 354C193.5 351.1 196.7 348 200 344C203.3 340 207.2 335 210 330C212.8 325 215.2 319 217 314C218.8 309 220.3 303.7 221 300C221.7 296.3 221.5 294.2 221 292C220.5 289.8 219.7 288.8 218 287C216.3 285.2 212.7 283 211 281C209.3 279 208.5 276 208 275M211 361.6C211.8 360.3 213.8 357.3 216 354C218.2 350.7 221.7 346.3 224 342C226.3 337.7 228.7 332.3 230 328C231.3 323.7 231.3 320.3 232 316C232.7 311.7 233.7 306.2 234 302C234.3 297.8 234.8 293.7 234 291C233.2 288.3 231 287.2 229 286C227 284.8 223.7 285.2 222 284C220.3 282.8 219.3 280.7 219 279C218.7 277.3 219 276.2 220 274C221 271.8 222.8 268.2 225 266C227.2 263.8 229.7 262.8 233 261C236.3 259.2 241.5 257.3 245 255C248.5 252.7 251.8 250.3 254 247C256.2 243.7 257.2 238.4 258 235C258.8 231.6 258.8 228 259 226.6M203 255C203.8 253.7 206 250 208 247C210 244 212.5 239.9 215 237C217.5 234.1 221.7 230.7 223 229.4M114.2 235C115.3 234.6 118.3 233.2 120.6 232.3C122.9 231.5 125.6 230.7 128.1 230.1C130.6 229.5 134.4 228.9 135.6 228.7M114.2 241.7C115.9 240.7 120.6 237.5 124.3 235.7C127.9 233.8 132.1 231.9 136 230.5C140 229.1 145.8 227.9 147.8 227.3M114.2 248.3C116.4 246.8 122.6 241.9 127.3 239C132 236.2 137.5 233.2 142.5 231.1C147.6 229 155.3 227.1 157.8 226.3M114.2 255C116.8 252.9 124.3 246.4 129.9 242.5C135.6 238.7 142.2 234.7 148.3 231.8C154.4 229 163.6 226.4 166.7 225.3M114.2 260.6C117.2 258.1 125.5 250.2 131.9 245.5C138.3 240.8 145.7 236 152.6 232.5C159.5 229 169.9 225.9 173.3 224.6" fill="none" stroke="#2a2a2a" stroke-width="0.62" stroke-linejoin="round"/>
<path d="M75.6 244.6L78.7 246.1L77.3 247.6ZM67.2 259L70.1 260.9L68.5 262.2ZM103.6 284.6L106.9 283.8L106.8 285.8ZM138.7 271.9L140.8 269.2L142 270.8ZM165.5 250.4L167.4 247.5L168.7 249ZM39.2 245.3L41.7 247.6L40 248.6ZM63.5 277.5L66.6 279.1L65.2 280.5ZM92.7 298.7L96.1 299L95.4 300.9ZM130.1 298.3L132.7 296L133.5 297.8ZM163.3 272.4L165.1 269.5L166.4 270.9ZM48.1 278.2L51 280.1L49.5 281.3ZM73.4 307.8L76.7 308.5L75.8 310.3ZM103.7 319.6L107.1 319.2L106.8 321.1ZM139.4 314.5L142.4 312.7L142.9 314.6ZM169.6 290.5L170.7 287.3L172.3 288.4ZM49.3 307.4L52.5 308.5L51.4 310.2ZM84 333L87.4 333.5L86.6 335.3ZM119.7 340.3L122.9 339.1L123 341.1ZM156.8 329.3L159.1 326.8L160.1 328.5ZM181.1 305.2L181.8 301.9L183.5 302.8ZM60.2 338.9L63.3 340.4L61.9 341.9ZM126.8 358.7L130.1 357.5L130.2 359.5ZM171.7 344.3L173.8 341.6L174.9 343.2ZM198.6 311.5L198.9 308.1L200.8 308.8ZM46.1 349.9L49 351.7L47.6 353ZM198.4 345.9L199.8 342.7L201.3 344ZM215.2 318.8L215.4 315.4L217.3 316.1ZM219.5 349.1L220.5 345.8L222.2 346.9ZM231.7 318.3L231.2 314.9L233.1 315.2ZM231.4 261.9L233.8 259.4L234.8 261.2ZM124.8 240.6L127.1 238L128.1 239.7ZM127.1 244.5L129.2 241.8L130.4 243.4Z" fill="#222" stroke="#222" stroke-width="0.3"/>
<path d="M34.2 234L108.6 232.2" fill="none" stroke="#222" stroke-width="0.8"/>
<path d="M114.2 231L197 222" fill="none" stroke="#222" stroke-width="0.8"/>
<path d="M201.5 230.9L265.5 226.5" fill="none" stroke="#222" stroke-width="0.8"/>
<path d="M108.5 229.3V272H114V229.3" fill="#fff" stroke="#222" stroke-width="0.9"/>
<path d="M197 222V271.2H201.5V230.9" fill="#fff" stroke="#222" stroke-width="0.9"/>
<path d="M196.6 223V270" fill="none" stroke="#0000d0" stroke-width="1.0"/>
<path d="M202 233V268" fill="none" stroke="#0000d0" stroke-width="0.9"/>
<path d="M34.2 203V362H265.5" fill="none" stroke="#000" stroke-width="1.25"/>
<path d="M57.2 362v-5.5M103.5 362v-5.5M149.7 362v-5.5M196.4 362v-5.5M242.9 362v-5.5M34.2 225.8h7M34.2 271.2h7M34.2 316.3h7M34.2 362h7" fill="none" stroke="#000" stroke-width="1.1"/>
<g font-family='"Liberation Sans", sans-serif' font-size="10.5" fill="#111" stroke="#111" stroke-width="0.2">
<text x="57.2" y="374" text-anchor="middle">-0.2</text>
<text x="103.5" y="374" text-anchor="middle">-0.1</text>
<text x="149.7" y="374" text-anchor="middle">0</text>
<text x="196.4" y="374" text-anchor="middle">0.1</text>
<text x="242.9" y="374" text-anchor="middle">0.2</text>
<text x="28.700000000000003" y="229.4" text-anchor="end">0</text>
<text x="28.700000000000003" y="274.8" text-anchor="end">-0.1</text>
<text x="28.700000000000003" y="319.90000000000003" text-anchor="end">-0.2</text>
<text x="28.700000000000003" y="365.6" text-anchor="end">-0.3</text>
</g>
<g font-family='"Liberation Serif", serif' font-size="15.4" fill="#111" stroke="#111" stroke-width="0.1"><text x="58" y="215.79999999999998">(c)</text><text transform="translate(81.1 215.79999999999998) scale(1.22 1)" font-style="italic" font-size="16.0" stroke-width="0.05">η</text><text x="90.4" y="219.7" font-size="8.6" stroke="#111" stroke-width="0.15">1</text><text x="94.6" y="215.79999999999998">=</text><text x="107.2" y="215.79999999999998">0</text></g>
<text x="136.2" y="395.2" font-family='"Liberation Serif", serif' font-size="13.0" fill="#111">x (m)</text>
<text transform="translate(13.9 295.6) rotate(-90)" text-anchor="middle" font-family='"Liberation Serif", serif' font-size="13.5" fill="#111">y (m)</text>
</g>
<g id="D">
<path d="M354.6 234.4C354.8 233.1 355.9 232.6 357 232.4C358.1 232.2 360.2 232.6 361 233.2C361.8 233.8 362.1 235 362 236C361.9 237 360.6 237.8 360.6 239C360.7 240.2 361.7 241.7 362.3 243C362.9 244.3 363.3 245.8 364 247C364.7 248.2 365.7 249 366.5 250C367.3 251 368.1 253.3 369 253C369.9 252.7 371.4 249.5 372 248C372.6 246.5 372.2 245.3 372.3 244C372.4 242.7 372.3 241.7 372.6 240C372.9 238.3 373.6 234.9 374 233.6C374.4 232.3 374.8 231.6 375 232.4C375.2 233.2 375 236.6 375 238.7C375 240.8 375 242.8 375 244.9C375 247 375 249.1 375 251.2C375 253.3 375 255.4 375 257.5C375 259.6 375 261.6 375 263.7C375 265.8 375.4 269.3 375 270C374.6 270.7 373.7 269.3 372.6 268C371.5 266.7 369.7 263.9 368.6 262.4C367.6 260.9 367.1 260.3 366.3 259.2C365.5 258.1 364.8 257.2 364 256C363.2 254.8 362.5 253.3 361.7 252C360.9 250.7 360.1 249.3 359.4 248C358.7 246.7 358.3 245.3 357.7 244C357.1 242.7 356.5 241.6 356 240C355.5 238.4 354.4 235.7 354.6 234.4Z" fill="#00ff55" />
<path d="M371.5 272.4C371.7 273.1 371.8 274.1 371.6 274.7C371.4 275.3 370.9 275.8 370.4 276C369.9 276.2 369.2 276.1 368.7 275.7C368.1 275.4 367.6 274.6 367.3 273.9C367.1 273.3 367 272.3 367.2 271.7C367.4 271.1 367.9 270.6 368.4 270.4C368.9 270.2 369.6 270.3 370.1 270.7C370.7 271 371.2 271.8 371.5 272.4Z" fill="#00ff55" />
<path d="M381 278.9C380.9 279.3 380.5 279.7 379.9 279.9C379.4 280 378.6 280.1 377.9 280C377.3 279.9 376.5 279.5 376.1 279.2C375.6 278.8 375.4 278.3 375.4 277.9C375.5 277.5 375.9 277.1 376.4 276.9C377 276.8 377.8 276.7 378.5 276.8C379.1 276.9 379.9 277.3 380.4 277.6C380.8 278 381 278.5 381 278.9Z" fill="#00ff55" />
<path d="M366.4 259.6C366.3 260 365.6 260.3 364.9 260.3C364.2 260.3 363.1 260 362.2 259.6C361.4 259.3 360.5 258.6 360 258C359.6 257.5 359.4 256.8 359.6 256.4C359.7 256 360.4 255.7 361.1 255.7C361.8 255.7 362.9 256 363.8 256.4C364.6 256.7 365.5 257.4 366 258C366.4 258.5 366.6 259.2 366.4 259.6Z" fill="#55ff00" />
<path d="M365.2 259.1C365.1 259.3 364.8 259.4 364.4 259.4C364 259.4 363.4 259.3 363 259.1C362.6 258.9 362.1 258.5 361.8 258.2C361.6 257.9 361.5 257.6 361.6 257.4C361.7 257.1 362 257 362.4 257C362.8 256.9 363.4 257.1 363.8 257.3C364.2 257.5 364.7 257.9 365 258.2C365.2 258.5 365.3 258.8 365.2 259.1Z" fill="#d0ff00" />
<path d="M372 234L375 231.6L375 271L372.6 268L371 250Z" fill="#00ffd0"/>
<path d="M373 233.6L375 231.6L375 270L373.4 267L372.2 250Z" fill="#00c8ff"/>
<path d="M373.8 226L375 225L375 274L374 270Z" fill="#0000ff"/>
<path d="M371.4 264.8C371.8 265.7 372 266.9 371.9 267.6C371.8 268.4 371.4 269.1 370.9 269.3C370.4 269.5 369.6 269.3 369 268.8C368.4 268.3 367.7 267.3 367.4 266.4C367 265.5 366.8 264.3 366.9 263.6C367 262.8 367.4 262.1 367.9 261.9C368.4 261.7 369.2 261.9 369.8 262.4C370.4 262.9 371.1 263.9 371.4 264.8Z" fill="#d0ff00" />
<path d="M370.9 265C371.2 265.7 371.3 266.7 371.3 267.3C371.3 267.9 371 268.4 370.6 268.6C370.2 268.7 369.6 268.5 369.2 268.1C368.8 267.7 368.2 266.9 367.9 266.2C367.6 265.5 367.5 264.5 367.5 263.9C367.5 263.3 367.8 262.8 368.2 262.6C368.6 262.5 369.2 262.7 369.6 263.1C370 263.5 370.6 264.3 370.9 265Z" fill="#ff0000" />
<path d="M380 232C380.7 231.3 383.1 232.3 384 233.6C384.9 234.9 385.2 238.1 385.4 240C385.6 241.9 385.1 243.3 385 245C384.9 246.7 384.8 248.3 384.6 250C384.4 251.7 384.1 253.3 383.8 255C383.5 256.7 383.6 258.9 383 260C382.4 261.1 380.5 262.3 380 261.6C379.5 260.9 380 257.7 380 255.7C380 253.7 380 251.7 380 249.8C380 247.8 380 245.8 380 243.8C380 241.9 380 239.9 380 237.9C380 235.9 379.3 232.7 380 232Z" fill="#55ff00" />
<path d="M380 231.6L383 233L384 240L382.6 245L380 244Z" fill="#ffc800"/>
<path d="M380.2 231.6L382.2 232.4L383 239L381.8 243.6L380.2 242Z" fill="#ff0000"/>
<path d="M380 244L381.2 245L381.4 273L380 274.4Z" fill="#0000ff"/>
<path d="M382 275.2C382 275.5 381.8 275.9 381.6 276.1C381.4 276.2 380.9 276.4 380.6 276.4C380.3 276.4 379.8 276.2 379.6 276.1C379.4 275.9 379.2 275.5 379.2 275.2C379.2 274.9 379.4 274.6 379.6 274.4C379.8 274.2 380.3 274 380.6 274C380.9 274 381.4 274.2 381.6 274.4C381.8 274.6 382 274.9 382 275.2Z" fill="#ff0000" />
<path d="M383.6 274.4C383.6 274.7 383.5 275.1 383.3 275.2C383.1 275.4 382.8 275.6 382.6 275.6C382.4 275.6 382.1 275.4 381.9 275.2C381.7 275.1 381.6 274.7 381.6 274.4C381.6 274.1 381.7 273.8 381.9 273.6C382.1 273.4 382.4 273.2 382.6 273.2C382.8 273.2 383.1 273.4 383.3 273.6C383.5 273.8 383.6 274.1 383.6 274.4Z" fill="#0000ff" />
<path d="M441 240C441.8 239.4 444.7 239.7 446.5 239.5C448.3 239.3 450.2 239.1 452 239C453.8 238.9 455.5 238.9 457.2 238.8C458.9 238.7 461.5 237.6 462.4 238.6C463.3 239.6 462.4 242.9 462.4 245C462.4 247.1 462.4 249.3 462.4 251.4C462.4 253.5 462.4 255.7 462.4 257.8C462.4 259.9 462.4 262.1 462.4 264.2C462.4 266.3 462.4 268.5 462.4 270.6C462.4 272.7 463 275.4 462.4 277C461.8 278.6 460.2 280.6 459 280.4C457.8 280.2 455.8 277.6 455 276C454.2 274.4 454.7 272.7 454.5 271C454.3 269.3 454.2 267.6 454 266C453.8 264.4 453.5 263 453.2 261.5C452.9 260 452.3 258.4 452.4 257C452.5 255.6 453.3 254.3 453.7 253C454.1 251.7 455.6 250.3 455 249C454.4 247.7 451.5 245.8 450 245C448.5 244.2 447.3 244.3 446 244C444.7 243.7 442.8 243.7 442 243C441.2 242.3 440.2 240.6 441 240Z" fill="#55ff00" />
<path d="M467.6 234C468.3 233.4 471.1 235.8 472 237C472.9 238.2 472.7 239.7 473 241C473.3 242.3 473.9 243.6 474 245C474.1 246.4 473.7 248 473.5 249.5C473.3 251 472.8 252.2 473 254C473.2 255.8 475.2 258.2 475 260C474.8 261.8 473.2 264 472 265C470.8 266 468.3 266.9 467.6 266C466.9 265.1 467.6 261.7 467.6 259.6C467.6 257.5 467.6 255.3 467.6 253.2C467.6 251.1 467.6 248.9 467.6 246.8C467.6 244.7 467.6 242.5 467.6 240.4C467.6 238.3 466.9 234.6 467.6 234Z" fill="#55ff00" />
<path d="M487.6 261.6C488.7 260 490.5 257.7 492.4 256.8C494.3 255.9 497.5 255.9 499.2 256.2C500.9 256.5 501.6 257.7 502.8 258.5C504 259.3 505.5 259.7 506.4 260.8C507.3 261.9 507.7 263.7 508.4 265.2C509.1 266.7 510.1 268.2 510.4 269.6C510.7 271 510.1 272.4 510 273.8C509.9 275.2 510.1 276.8 509.6 278C509.1 279.2 507.9 279.9 507 280.8C506.1 281.7 505.5 282.9 504.4 283.6C503.3 284.3 501.7 284.5 500.4 285C499.1 285.5 498 286.1 496.4 286.4C494.8 286.7 492.4 287.6 491 287C489.6 286.4 488.8 284.3 488 283C487.2 281.7 486.9 280.8 486.4 279C485.9 277.2 485.3 274.5 485.2 272.4C485.1 270.3 485.4 268.4 485.8 266.6C486.2 264.8 486.5 263.2 487.6 261.6Z" fill="#55ff00" />
<path d="M503.1 275.2C503.4 275.7 503.4 276.6 503.1 277.2C502.7 277.8 501.9 278.7 501.2 279.1C500.5 279.5 499.4 279.8 498.6 279.7C497.9 279.7 497.2 279.3 496.9 278.8C496.6 278.3 496.6 277.4 496.9 276.8C497.3 276.2 498.1 275.3 498.8 274.9C499.5 274.5 500.6 274.2 501.4 274.3C502.1 274.3 502.8 274.7 503.1 275.2Z" fill="#d0ff00" />
<path d="M474.4 257C474.4 257.7 474.2 258.5 474.1 259C473.9 259.4 473.5 259.8 473.2 259.8C472.9 259.8 472.6 259.4 472.4 259C472.2 258.5 472 257.7 472 257C472 256.3 472.2 255.5 472.4 255C472.6 254.6 472.9 254.2 473.2 254.2C473.5 254.2 473.9 254.6 474.1 255C474.2 255.5 474.4 256.3 474.4 257Z" fill="#d0ff00" />
<path d="M505.2 290.6C505.3 290.9 505.1 291.4 504.7 291.8C504.3 292.2 503.5 292.7 502.9 292.9C502.2 293.2 501.3 293.3 500.8 293.3C500.2 293.2 499.7 292.9 499.6 292.6C499.5 292.3 499.7 291.8 500.1 291.4C500.5 291 501.3 290.5 501.9 290.3C502.6 290 503.5 289.9 504.1 289.9C504.6 290 505.1 290.3 505.2 290.6Z" fill="#00ff55" />
<path d="M459 277C459.7 276.2 462 276.4 463.5 276.1C465 275.8 466.2 275.3 468 275.2C469.8 275.1 472 275.5 474 275.6C476 275.7 478.3 275.7 480 276C481.7 276.3 482.8 277.1 484.2 277.6C485.6 278.1 487 278.1 488.4 279.2C489.8 280.3 491.5 282.6 492.4 284.4C493.3 286.2 494.3 288.4 493.6 290C492.9 291.6 489.8 293.3 488 294C486.2 294.7 484.7 294.1 483 294.2C481.3 294.3 479.5 294.6 478 294.4C476.5 294.2 475.3 293.6 474 293.2C472.7 292.8 471.7 292.5 470 292C468.3 291.5 465.3 291.2 463.6 290C461.9 288.8 460.7 286.5 460 285C459.3 283.5 459.7 282.3 459.5 281C459.3 279.7 458.3 277.8 459 277Z" fill="#55ff00" />
<path d="M460 277.6C460.5 276.4 462.7 277.1 464 276.9C465.3 276.7 466.4 276.2 468 276.2C469.6 276.1 471.7 276.5 473.5 276.6C475.3 276.7 477.5 276.7 479 277C480.5 277.3 481.5 277.9 482.7 278.4C483.9 278.9 485.4 278.9 486.4 279.8C487.3 280.7 488.7 282.8 488.4 284C488.1 285.2 485.8 286.7 484.4 287.2C482.9 287.7 481.3 286.9 479.7 286.8C478.1 286.7 476.6 285.9 475 286.4C473.4 286.9 471.8 289.2 470 289.6C468.2 290 465.5 289.7 464 288.8C462.5 287.9 461.5 285.9 460.8 284C460.1 282.1 459.5 278.8 460 277.6Z" fill="#d0ff00" />
<path d="M460.6 278C461.1 277.1 463.1 277.6 464.3 277.4C465.5 277.2 466.5 276.8 468 276.8C469.5 276.8 471.5 277.1 473.2 277.2C474.9 277.3 476.9 277.3 478.4 277.6C479.9 277.9 480.8 278.5 482 279C483.2 279.5 484.7 279.6 485.6 280.4C486.5 281.2 487.8 283 487.4 284C487 285 484.7 286.1 483.4 286.4C482.1 286.7 480.8 286.1 479.5 286C478.2 285.9 477.3 285.3 475.6 285.6C473.9 285.9 471.1 287.7 469.2 288C467.3 288.3 465.7 288.2 464.4 287.4C463.1 286.6 462.2 284.6 461.6 283C461 281.4 460.2 278.9 460.6 278Z" fill="#ffc800" />
<path d="M462.4 282.4L470 283.2L470 287L465.6 286.8L462.8 285Z" fill="#ff6000"/>
<path d="M461 278.4C461.5 278 463.3 278.1 464.5 277.9C465.7 277.7 466.6 277.4 468 277.4C469.4 277.4 471.3 277.7 473 277.8C474.7 277.9 476.6 277.9 478 278.2C479.4 278.5 480.3 279 481.4 279.4C482.5 279.8 483.9 279.9 484.8 280.6C485.7 281.3 486.9 282.9 486.6 283.8C486.3 284.7 484.5 285.9 482.8 286C481.1 286.1 478.4 285.1 476.4 284.6C474.4 284.1 472.9 283.2 471 282.8C469.1 282.4 466.6 282.6 465 282.2C463.4 281.8 462.3 281 461.6 280.4C460.9 279.8 460.5 278.8 461 278.4Z" fill="#ff0000" />
<path d="M489.1 290.9C489 291.8 487.7 292.9 486.1 293.3C484.4 293.8 481.6 293.9 479.4 293.6C477.3 293.3 474.6 292.4 473.2 291.5C471.7 290.6 470.8 289.3 470.9 288.3C471 287.4 472.3 286.3 473.9 285.9C475.6 285.4 478.4 285.3 480.6 285.6C482.7 285.9 485.4 286.8 486.8 287.7C488.3 288.6 489.2 289.9 489.1 290.9Z" fill="#00ff55" />
<path d="M487.9 290.7C487.8 291.5 486.7 292.4 485.3 292.8C483.9 293.1 481.4 293.2 479.5 293C477.7 292.7 475.3 291.9 474.1 291.2C472.8 290.4 472 289.3 472.1 288.5C472.2 287.7 473.3 286.8 474.7 286.4C476.1 286.1 478.6 286 480.5 286.2C482.3 286.5 484.7 287.3 485.9 288C487.2 288.8 488 289.9 487.9 290.7Z" fill="#00ffd0" />
<path d="M486.9 290.4C486.8 291 485.9 291.8 484.6 292.1C483.4 292.4 481.2 292.4 479.6 292.2C478 291.9 475.9 291.3 474.8 290.7C473.7 290 473 289.1 473.1 288.4C473.2 287.8 474.1 287.1 475.4 286.8C476.6 286.4 478.8 286.4 480.4 286.6C482 286.9 484.1 287.5 485.2 288.1C486.3 288.8 487 289.7 486.9 290.4Z" fill="#00c8ff" />
<path d="M485.7 290C485.7 290.5 484.8 291.1 483.8 291.3C482.8 291.5 481 291.6 479.7 291.4C478.3 291.2 476.6 290.7 475.7 290.2C474.8 289.7 474.2 288.9 474.3 288.4C474.3 287.9 475.2 287.3 476.2 287.1C477.2 286.9 479 286.8 480.3 287C481.7 287.2 483.4 287.7 484.3 288.2C485.2 288.7 485.8 289.5 485.7 290Z" fill="#0000ff" />
<path d="M472.8 240.2C472.9 241.7 472.8 243.7 472.5 244.8C472.2 245.9 471.5 246.7 471 246.8C470.4 246.8 469.6 246.1 469.1 245.1C468.6 244 468.1 242.1 468 240.6C467.9 239.1 468 237.1 468.3 236C468.6 234.9 469.3 234.1 469.8 234C470.4 234 471.2 234.7 471.7 235.7C472.2 236.8 472.7 238.7 472.8 240.2Z" fill="#ffc800" />
<path d="M472 239.8C472.1 241.2 472 242.9 471.8 243.8C471.6 244.8 471.1 245.5 470.7 245.6C470.3 245.6 469.7 245 469.3 244.1C468.9 243.2 468.5 241.5 468.4 240.2C468.3 238.8 468.4 237.1 468.6 236.2C468.8 235.2 469.3 234.5 469.7 234.4C470.1 234.4 470.7 235 471.1 235.9C471.5 236.8 471.9 238.5 472 239.8Z" fill="#ff0000" />
<path d="M467.6 245L470.4 247L471 258L469.6 269L467.6 270Z" fill="#00c8ff"/>
<path d="M467.6 246L469.4 247.6L469.8 258L468.8 268L467.6 269Z" fill="#0000ff"/>
<path d="M459 238.6L462.4 238.6L462.4 242L460 241Z" fill="#00ffd0"/>
<path d="M314 218.7C314.1 220.6 314.5 225.6 314.4 230C314.3 234.4 313.9 240.3 313.6 245C313.3 249.7 312.9 255.8 312.8 258M322 219.4C322.3 222.8 323.5 233.6 324 240C324.5 246.4 325 252 325 258C325 264 324.5 271.7 324 276C323.5 280.3 323.2 280.7 322 284C320.8 287.3 318.6 292.3 317 296C315.4 299.7 313.3 304.3 312.6 306M330 220.1C330.3 221.4 331 223.7 332 228C333 232.3 334.7 240.7 336 246C337.3 251.3 339.1 255 340 260C340.9 265 341.3 271.3 341.5 276C341.7 280.7 341.2 284 341 288C340.8 292 340.8 295.3 340 300C339.2 304.7 337.8 310.8 336 316C334.2 321.2 331.5 327 329 331C326.5 335 323.7 337 321 340C318.3 343 314 347.5 312.6 349M332 220.3C332.5 222.6 333.5 229 335 234C336.5 239 339.2 244.3 341 250C342.8 255.7 344.9 262.3 346 268C347.1 273.7 347.4 279.3 347.6 284C347.8 288.7 347.4 291 347 296C346.6 301 346.2 308 345 314C343.8 320 342.3 326.7 340 332C337.7 337.3 334.3 341.8 331 346C327.7 350.2 323.1 354.2 320 357C316.9 359.8 313.8 362 312.6 363M335 220.5C335.7 222.8 337.3 229.1 339 234C340.7 238.9 343.2 244.3 345 250C346.8 255.7 348.8 262.3 350 268C351.2 273.7 351.6 279.3 352 284C352.4 288.7 352.4 291.7 352.6 296C352.8 300.3 353.1 305.3 353 310C352.9 314.7 352.8 319 352 324C351.2 329 349.8 335 348 340C346.2 345 343.2 350.2 341 354C338.8 357.8 336 361.5 335 363M338 220.8C338.7 222.7 340.5 227.8 342 232C343.5 236.2 345.2 240.7 347 246C348.8 251.3 351.5 258.3 353 264C354.5 269.7 355 274 356 280C357 286 358 293.3 359 300C360 306.7 361.7 314 362 320C362.3 326 361.8 330.8 361 336C360.2 341.2 358.7 346.5 357 351C355.3 355.5 352 361 351 363M340 221C340.8 223.1 343.2 229.2 345 234C346.8 238.8 349 244.7 351 250C353 255.3 355.3 261 357 266C358.7 271 359.3 276 361 280C362.7 284 364.7 286 367 290C369.3 294 372.3 299 375 304C377.7 309 380.3 314.3 383 320C385.7 325.7 388.7 333 391 338C393.3 343 395.3 345.8 397 350C398.7 354.2 400.3 360.8 401 363M341.5 221.1C342.4 223.6 344.9 230.7 347 236C349.1 241.3 351.8 247.7 354 253C356.2 258.3 357.8 263.2 360 268C362.2 272.8 364.8 278.3 367 282C369.2 285.7 370.7 287.7 373 290C375.3 292.3 378.3 293.7 381 296C383.7 298.3 386 300.7 389 304C392 307.3 396.3 313 399 316C401.7 319 402.7 319.3 405 322C407.3 324.7 410.2 327.8 413 332C415.8 336.2 419 342.8 422 347C425 351.2 428.3 354.3 431 357C433.7 359.7 436.8 362 438 363M343 221.2C344.2 224 347.5 232.2 350 238C352.5 243.8 355.7 250.7 358 256C360.3 261.3 361.8 265.3 364 270C366.2 274.7 368.2 280.7 371 284C373.8 287.3 377.3 288 381 290C384.7 292 389 293.8 393 296C397 298.2 401.7 301 405 303C408.3 305 410.3 305.2 413 308C415.7 310.8 418 315.7 421 320C424 324.3 427.3 329.3 431 334C434.7 338.7 439 344.2 443 348C447 351.8 451.3 354.5 455 357C458.7 359.5 463.3 362 465 363M345 221.4C346.3 224.2 350.3 232.2 353 238C355.7 243.8 358.7 251 361 256C363.3 261 365 264.3 367 268C369 271.7 370.7 275.8 373 278C375.3 280.2 378.3 280.6 381 281.5C383.7 282.4 385 282.5 389 283.5C393 284.5 400.3 286.2 405 287.5C409.7 288.8 413 289.6 417 291C421 292.4 425.5 294.2 429 296C432.5 297.8 435 299.2 438 302C441 304.8 444.2 309 447 313C449.8 317 452.3 322.5 455 326C457.7 329.5 459.5 331.3 463 334C466.5 336.7 470.8 339 476 342C481.2 345 488.7 349.5 494 352C499.3 354.5 503.7 355.7 508 357C512.3 358.3 516.7 359 520 360C523.3 361 526.7 362.5 528 363M380.6 268.5C381 268.8 381.4 269.2 383 270C384.6 270.8 387.3 272 390 273.4C392.7 274.8 394.8 276.7 399 278.6C403.2 280.5 410.2 283.2 415 284.6C419.8 286 424.7 286.2 428 287C431.3 287.8 431.3 289 435 289.4C438.7 289.8 446.3 290.1 450 289.5C453.7 288.9 455.2 287.8 457 286C458.8 284.2 460.3 280.2 461 279M359 222.6C360.3 224.5 364.4 230.3 367 234C369.6 237.7 373.5 243.2 374.8 245M381 231.8C382 231.9 382 231.8 387 232.3C392 232.8 403 234.1 411 235C419 235.9 426.5 236.8 435 237.6C443.5 238.4 457.5 239.6 462 240M381.5 232.5C382.1 232.7 381.4 232.6 385 233.8C388.6 235.1 396.7 238.5 403 240C409.3 241.5 416 242.5 423 243C430 243.5 439 243.2 445 243C451 242.8 456.7 242.2 459 242M382 233.2C382.5 233.6 381.8 233.9 385 235.5C388.2 237.1 394.7 241.2 401 243C407.3 244.8 415.7 245.5 423 246C430.3 246.5 438.8 246.3 445 246C451.2 245.7 457.5 244.3 460 244M382 234C382.7 234.8 382.8 236.3 386 238.5C389.2 240.7 394.8 245.2 401 247C407.2 248.8 415.7 248.7 423 249C430.3 249.3 438.7 249.4 445 249C451.3 248.6 458.3 246.9 461 246.5M382 235.5C382.8 236.6 383.8 239.5 387 242C390.2 244.5 395 248.8 401 250.5C407 252.2 415.7 251.8 423 252C430.3 252.2 438.5 252 445 251.5C451.5 251 459.2 249.4 462 249M380.6 245C381.3 245.8 381.9 248.5 385 250C388.1 251.5 392.7 253.1 399 254C405.3 254.9 413.7 255.8 423 255.6C432.3 255.4 448.4 253.6 455 253C461.6 252.4 461.2 252.2 462.4 252M380.6 256C381.7 257 383.9 260.5 387 262C390.1 263.5 393 264.3 399 265C405 265.7 414.3 266.2 423 266C431.7 265.8 444.7 264.7 451 264C457.3 263.3 459.3 262.3 461 262M380.6 266C381.7 266.7 383.9 268.8 387 270C390.1 271.2 394 272.6 399 273.4C404 274.2 411 274.7 417 275C423 275.3 428.7 275.1 435 275C441.3 274.9 450.5 274.6 455 274.6C459.5 274.6 460.8 274.9 462 275M466 290C465 290.5 461.2 291 460 293C458.8 295 458.5 298.2 459 302C459.5 305.8 460.8 311.3 463 316C465.2 320.7 468.5 326.3 472 330C475.5 333.7 479.3 335 484 338C488.7 341 494 345.2 500 348C506 350.8 512.8 353.5 520 355C527.2 356.5 539.2 356.7 543 357M473 290C473.3 291.7 473.5 296 475 300C476.5 304 479.2 309.8 482 314C484.8 318.2 488.3 322.2 492 325C495.7 327.8 499.3 329 504 331C508.7 333 513.5 335 520 337C526.5 339 539.2 342 543 343M468 251C469 250.7 471.7 249 474 249C476.3 249 478 249.2 482 251C486 252.8 494 257.2 498 260C502 262.8 503.3 265.3 506 268C508.7 270.7 511 273.5 514 276C517 278.5 520.3 280.8 524 283C527.7 285.2 532.8 287.7 536 289C539.2 290.3 541.8 290.7 543 291M469 247C470.2 246.8 473.2 245.7 476 246C478.8 246.3 482.7 247.5 486 249C489.3 250.5 493 252.8 496 255C499 257.2 501.7 259.2 504 262C506.3 264.8 508.3 269 510 272C511.7 275 512.3 277 514 280C515.7 283 517.3 287.3 520 290C522.7 292.7 526.2 294.3 530 296C533.8 297.7 540.8 299.3 543 300M473 244C474.2 244.5 477.2 245.5 480 247C482.8 248.5 486.7 250.7 490 253C493.3 255.3 497 258.2 500 261C503 263.8 506.3 267.2 508 270C509.7 272.8 510 275.3 510 278C510 280.7 507.3 283.3 508 286C508.7 288.7 511 291 514 294C517 297 521.2 301.3 526 304C530.8 306.7 540.2 309 543 310M487 281C487.7 280.7 490.2 278.7 491 279C491.8 279.3 491.9 281.7 491.6 283C491.3 284.3 489.4 286.3 489 287M470 287C469.2 287.5 466.7 288.8 465 290C463.3 291.2 461 292.3 460 294C459 295.7 459.2 299 459 300M472 288C472.3 288.7 473.5 290 474 292C474.5 294 474.8 298.7 475 300" fill="none" stroke="#2a2a2a" stroke-width="0.62" stroke-linejoin="round"/>
<path d="M314.3 224.9L315.4 228.2L313.4 228.3ZM325 257.7L326 261L324 261ZM318.6 292.3L318.2 295.7L316.4 294.9ZM332 227.9L333.7 230.9L331.7 231.4ZM339.8 258.8L341.3 261.9L339.4 262.3ZM340.8 293.4L341.5 296.8L339.5 296.6ZM331.5 326.6L330.8 330L329 329.1ZM336 236.9L338.1 239.6L336.2 240.4ZM347.4 279.1L348.5 282.3L346.6 282.4ZM345.1 313.4L345.5 316.8L343.5 316.4ZM327.9 349.5L326.3 352.5L324.9 351.1ZM346.3 254.3L348.3 257.1L346.4 257.7ZM353 305.8L354 309.1L352 309.1ZM345.2 346.4L344.5 349.7L342.8 348.8ZM341.4 230.4L343.5 233.1L341.6 233.8ZM356.4 282.7L357.9 285.8L356 286.1ZM361.7 316.2L363 319.4L361 319.6ZM358 348.2L357.8 351.6L356 351ZM350.4 248.4L352.5 251.2L350.6 251.9ZM371.7 298L374.2 300.4L372.4 301.4ZM388.7 332.9L390.9 335.5L389.1 336.3ZM350.3 244L352.5 246.7L350.6 247.4ZM368.1 283.8L370.7 286L369.1 287.1ZM392.6 308.3L395.5 310.2L394 311.5ZM419.2 342.7L421.8 345L420.1 346ZM353.8 246.5L356 249.1L354.2 249.9ZM385.6 292.3L389 292.9L388.1 294.6ZM420.2 318.8L422.9 321L421.2 322.1ZM440.1 345.1L443.1 346.8L441.7 348.1ZM356.8 246.6L359.1 249.2L357.2 250ZM381 281.5L384.4 281.5L383.9 283.4ZM428 295.5L431.4 296.1L430.5 297.9ZM456.7 328.2L459.6 329.9L458.2 331.3ZM491.6 350.8L495 351.4L494.1 353.1ZM394.8 276.5L398.2 277.2L397.3 278.9ZM428.9 287.2L432.4 287.7L431.5 289.5ZM399.6 233.7L403 233.1L402.8 235.1ZM436 237.7L439.4 237L439.2 239ZM421.8 242.9L425.2 242.1L425 244.1ZM422.1 245.9L425.4 245.2L425.3 247.1ZM421.9 249L425.2 248.1L425.1 250.1ZM421.8 252L425.1 251L425.1 253ZM418.4 255.6L421.7 254.6L421.7 256.6ZM383.9 259.8L387.1 261.1L385.9 262.6ZM417.8 266L421.1 265L421.1 267ZM394 272.4L397.5 272.1L397 274.1ZM427.1 275.1L430.4 274.1L430.4 276.1ZM454.5 274.6L457.9 273.7L457.8 275.6ZM459.1 303.1L460.7 306.1L458.8 306.5ZM488.4 341L491.7 342L490.6 343.6ZM475.9 302.2L478.1 304.9L476.3 305.7ZM505.1 331.5L508.5 331.8L507.7 333.6ZM491.1 255.7L494.4 256.5L493.5 258.2ZM507.9 269.9L510.9 271.7L509.4 273ZM507.9 268.1L510.3 270.5L508.6 271.5ZM527.5 294.9L531 295.3L530.2 297.2ZM510 276.2L511 279.5L509 279.5ZM531.4 306.4L534.9 306.5L534.2 308.4Z" fill="#222" stroke="#222" stroke-width="0.3"/>
<path d="M312.7 218.6L374.8 224" fill="none" stroke="#222" stroke-width="0.8"/>
<path d="M380 230.9L462.4 238.5" fill="none" stroke="#222" stroke-width="0.8"/>
<path d="M467.5 233.4L543 236" fill="none" stroke="#222" stroke-width="0.8"/>
<path d="M374.8 224V274.3H380V230.9" fill="#fff" stroke="#222" stroke-width="0.9"/>
<path d="M462.4 238.5V275H467.5V233.4" fill="#fff" stroke="#222" stroke-width="0.9"/>
<path d="M374.4 225V274" fill="none" stroke="#0000d0" stroke-width="1.0"/>
<path d="M380.4 245V274" fill="none" stroke="#0000d0" stroke-width="0.9"/>
<path d="M462 240V275.4H467" fill="none" stroke="#b00000" stroke-width="1.0"/>
<path d="M467.9 246V272" fill="none" stroke="#0000d0" stroke-width="0.9"/>
<path d="M312.7 207.5V363.6H543" fill="none" stroke="#000" stroke-width="1.25"/>
<path d="M335.2 363.6v-5.5M381.4 363.6v-5.5M427.4 363.6v-5.5M473.9 363.6v-5.5M519.9 363.6v-5.5M312.7 229.6h7M312.7 274.3h7M312.7 319.4h7M312.7 363.6h7" fill="none" stroke="#000" stroke-width="1.1"/>
<g font-family='"Liberation Sans", sans-serif' font-size="10.5" fill="#111" stroke="#111" stroke-width="0.2">
<text x="335.2" y="375.6" text-anchor="middle">-0.2</text>
<text x="381.4" y="375.6" text-anchor="middle">-0.1</text>
<text x="427.4" y="375.6" text-anchor="middle">0</text>
<text x="473.9" y="375.6" text-anchor="middle">0.1</text>
<text x="519.9" y="375.6" text-anchor="middle">0.2</text>
<text x="307.2" y="233.2" text-anchor="end">0</text>
<text x="307.2" y="277.90000000000003" text-anchor="end">-0.1</text>
<text x="307.2" y="323.0" text-anchor="end">-0.2</text>
<text x="307.2" y="367.20000000000005" text-anchor="end">-0.3</text>
</g>
<g font-family='"Liberation Serif", serif' font-size="15.4" fill="#111" stroke="#111" stroke-width="0.1"><text x="404.5" y="222.79999999999998">(d)</text><text transform="translate(428.4 222.79999999999998) scale(1.22 1)" font-style="italic" font-size="16.0" stroke-width="0.05">η</text><text x="438.1" y="226.7" font-size="8.6" stroke="#111" stroke-width="0.15">1</text><text x="442.4" y="222.79999999999998">=</text><text x="455.5" y="222.79999999999998">min</text></g>
<text x="413.4" y="386.8" font-family='"Liberation Serif", serif' font-size="13.0" fill="#111">x (m)</text>
<text transform="translate(295.8 299) rotate(-90)" text-anchor="middle" font-family='"Liberation Serif", serif' font-size="13.5" fill="#111">y (m)</text>
</g>
<rect x="175.2" y="397.6" width="10.2" height="16.8" fill="#0000ff"/>
<rect x="185.4" y="397.6" width="19.0" height="16.8" fill="#0055ff"/>
<rect x="204.4" y="397.6" width="19.1" height="16.8" fill="#00c8ff"/>
<rect x="223.5" y="397.6" width="19.1" height="16.8" fill="#00ffd0"/>
<rect x="242.6" y="397.6" width="19.6" height="16.8" fill="#00ff55"/>
<rect x="262.2" y="397.6" width="19.1" height="16.8" fill="#ffffff"/>
<rect x="281.3" y="397.6" width="19.0" height="16.8" fill="#55ff00"/>
<rect x="300.3" y="397.6" width="19.1" height="16.8" fill="#d0ff00"/>
<rect x="319.4" y="397.6" width="19.6" height="16.8" fill="#ffc800"/>
<rect x="339" y="397.6" width="19.3" height="16.8" fill="#ff6000"/>
<rect x="358.3" y="397.6" width="9.4" height="16.8" fill="#ff0000"/>
<path d="M175.2 397.6H367.7V414.4H175.2ZM185.4 397.6V414.4M204.4 397.6V414.4M223.5 397.6V414.4M242.6 397.6V414.4M262.2 397.6V414.4M281.3 397.6V414.4M300.3 397.6V414.4M319.4 397.6V414.4M339 397.6V414.4M358.3 397.6V414.4" fill="none" stroke="#444" stroke-width="0.5"/>
<g font-family='"Liberation Sans", sans-serif' font-size="10" fill="#1a1a1a" text-anchor="middle">
<text x="184.9" y="427.5">-10</text>
<text x="203.9" y="427.5">-8</text>
<text x="223.0" y="427.5">-6</text>
<text x="242.1" y="427.5">-4</text>
<text x="261.7" y="427.5">-2</text>
<text x="280.8" y="427.5">2</text>
<text x="299.8" y="427.5">4</text>
<text x="318.9" y="427.5">6</text>
<text x="338.5" y="427.5">8</text>
<text x="357.8" y="427.5">10</text>
</g>
<text x="357.5" y="442" font-family='"Liberation Serif", serif' font-size="15.5" fill="#111">unit: s<tspan font-size="9.5" dy="-5.8">-1</tspan></text>
</svg></body></html>
